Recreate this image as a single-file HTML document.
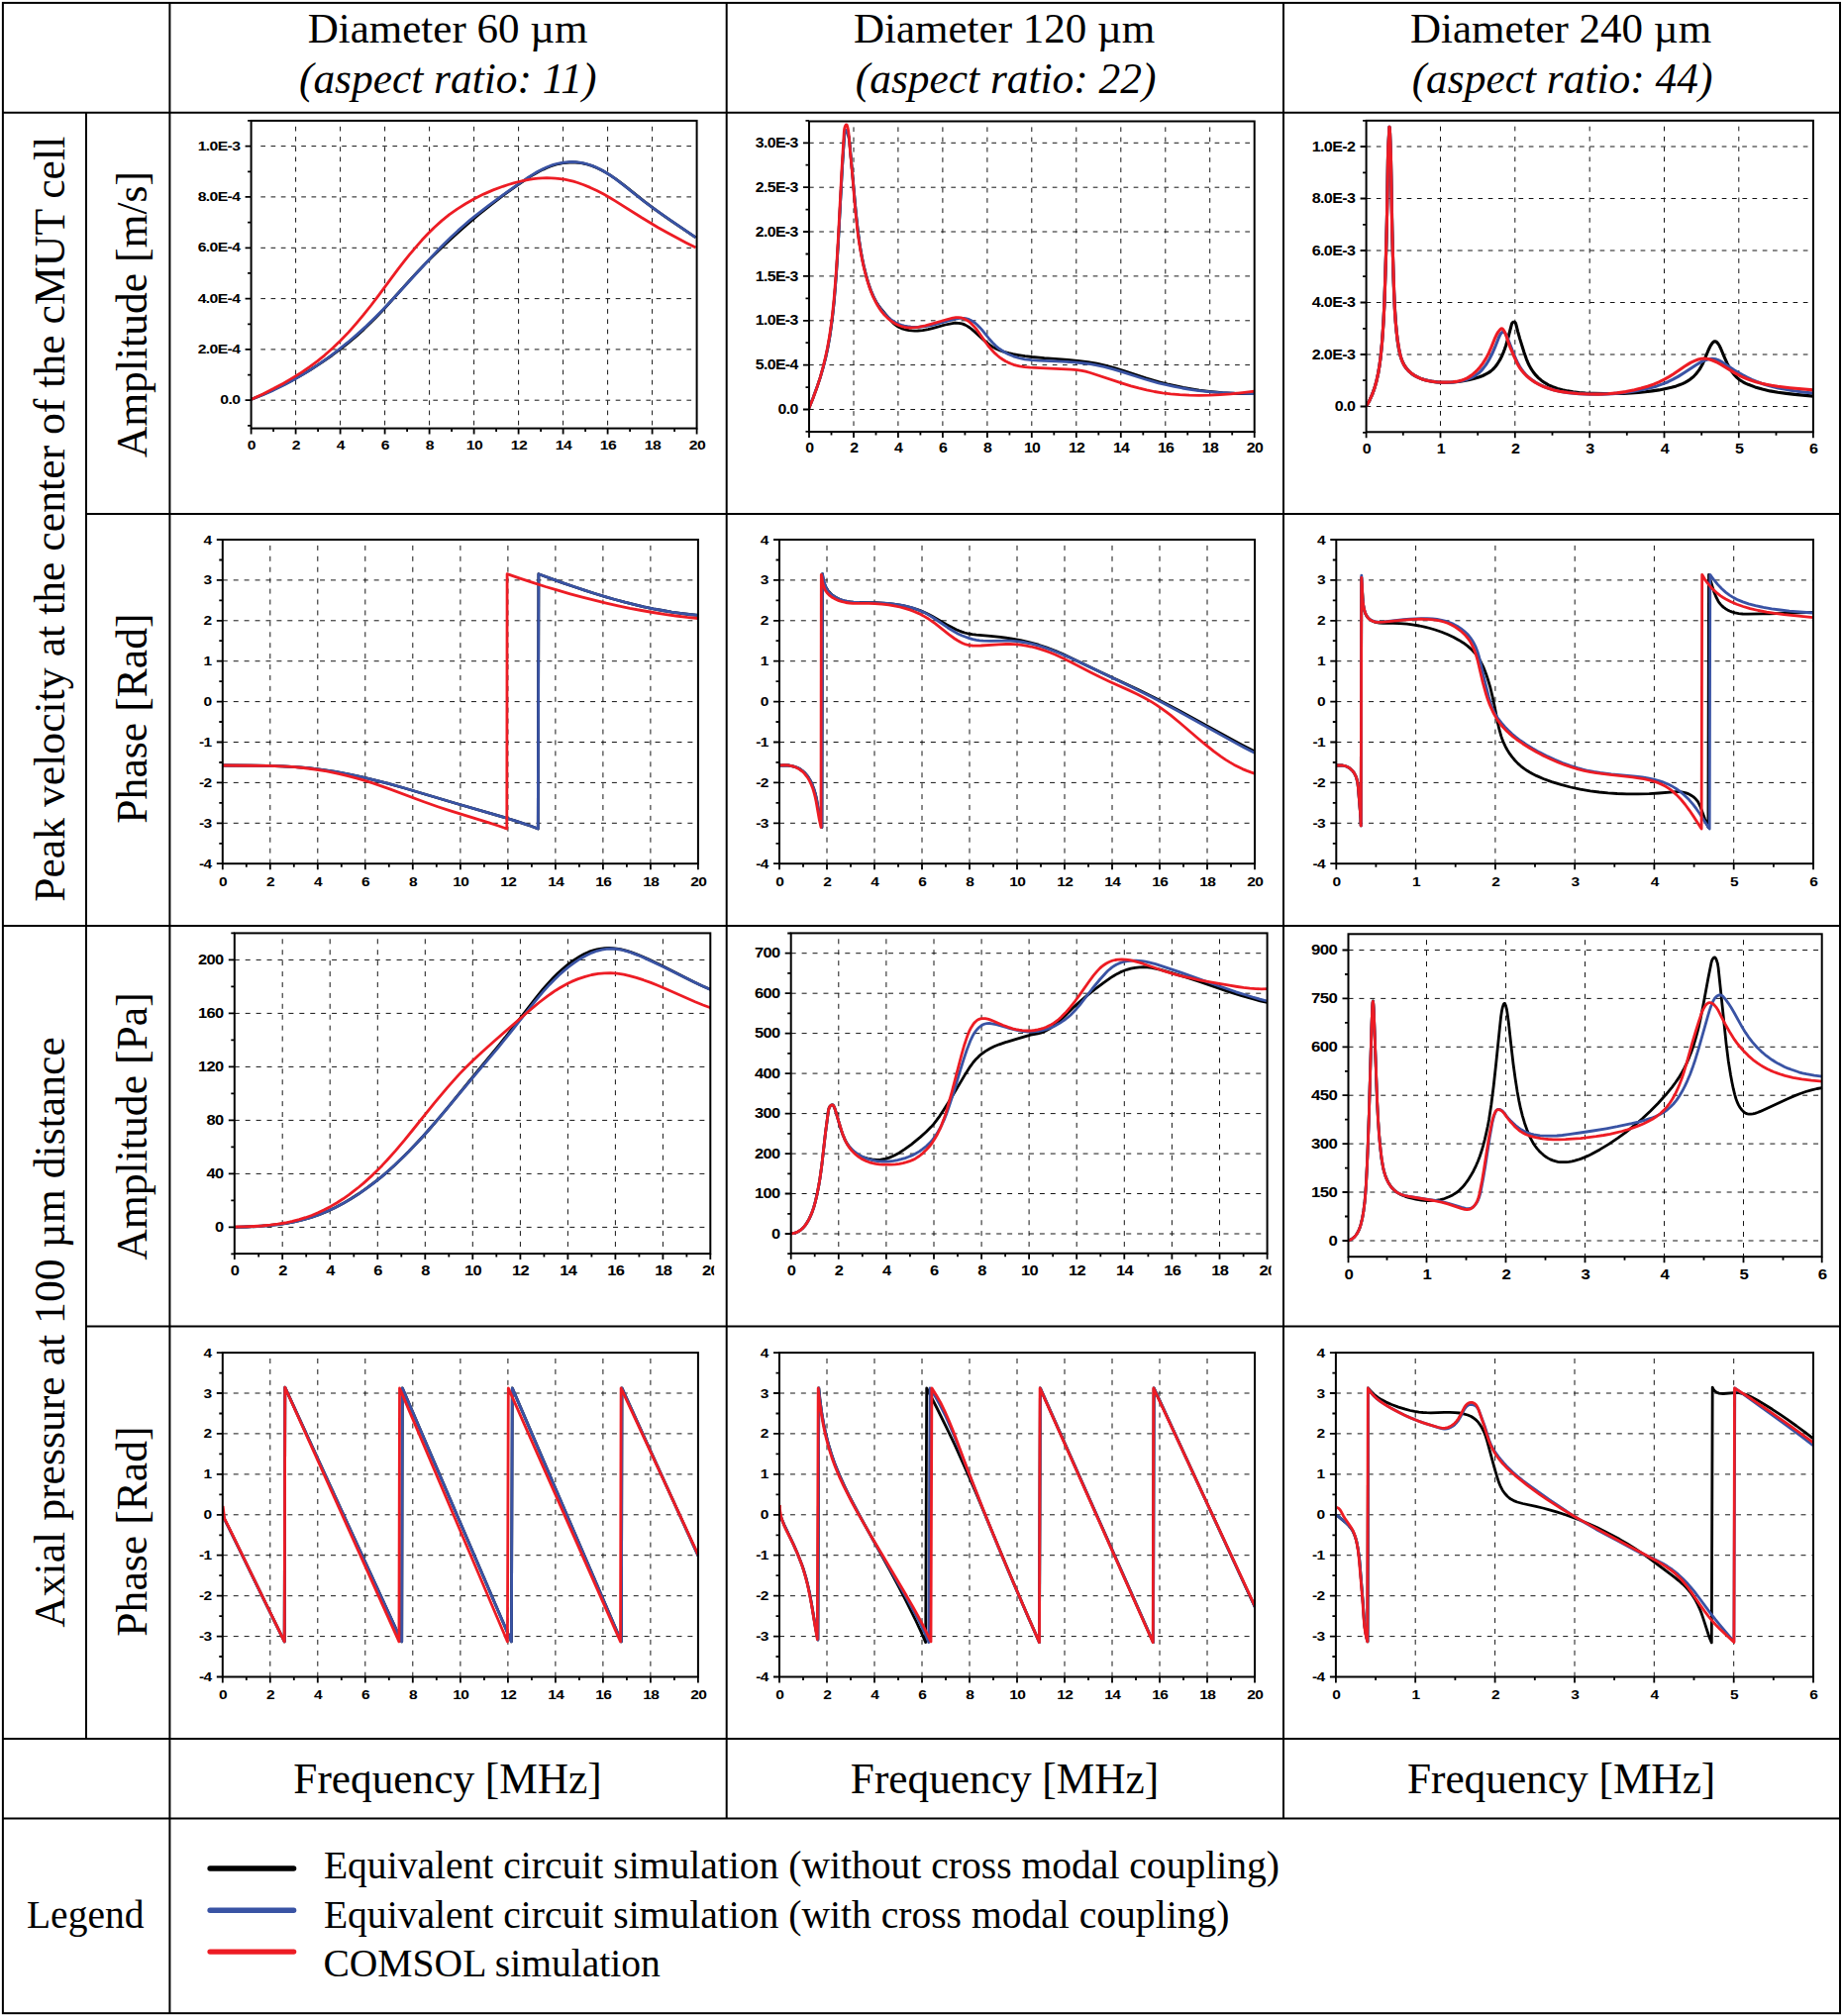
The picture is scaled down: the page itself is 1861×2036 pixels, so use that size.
<!DOCTYPE html>
<html><head><meta charset="utf-8"><title>cMUT simulation comparison</title>
<style>
html,body{margin:0;padding:0;background:#fff}
svg{display:block}
.s{font-family:"Liberation Serif",serif;fill:#000}
.h{font-family:"Liberation Sans",sans-serif;fill:#000}
.g{stroke:#151515;stroke-width:1}
</style></head><body>
<svg width="1861" height="2036" viewBox="0 0 1861 2036">
<defs><clipPath id="c1"><rect x="253.6" y="121.9" width="451" height="310.7"/></clipPath><clipPath id="c2"><rect x="817" y="122.5" width="450.7" height="313.6"/></clipPath><clipPath id="c3"><rect x="1379.6" y="121.8" width="452.3" height="314.5"/></clipPath><clipPath id="c4"><rect x="224.8" y="545" width="481.1" height="327.2"/></clipPath><clipPath id="c5"><rect x="787" y="545" width="481" height="327.2"/></clipPath><clipPath id="c6"><rect x="1349.3" y="545" width="482.7" height="327.2"/></clipPath><clipPath id="c7"><rect x="236.8" y="942.4" width="481.5" height="323.7"/></clipPath><clipPath id="k7"><rect x="0" y="0" width="721.2" height="2036"/></clipPath><clipPath id="c8"><rect x="798.7" y="942.4" width="481.9" height="323.4"/></clipPath><clipPath id="k8"><rect x="0" y="0" width="1283.6" height="2036"/></clipPath><clipPath id="c9"><rect x="1361.5" y="943.3" width="479.2" height="325.9"/></clipPath><clipPath id="c10"><rect x="224.8" y="1366.1" width="481.1" height="327.4"/></clipPath><clipPath id="c11"><rect x="787" y="1366.1" width="481" height="327.4"/></clipPath><clipPath id="c12"><rect x="1348.9" y="1366.1" width="483.1" height="327.4"/></clipPath></defs>
<rect width="1861" height="2036" fill="#fff"/>
<rect x="2.9" y="2.9" width="1855.1" height="2030.3" fill="none" stroke="#000" stroke-width="2"/>
<line x1="87" y1="113.7" x2="87" y2="1756" stroke="#000" stroke-width="2" />
<line x1="171.4" y1="2.9" x2="171.4" y2="2033.2" stroke="#000" stroke-width="2" />
<line x1="733.7" y1="2.9" x2="733.7" y2="1836.6" stroke="#000" stroke-width="2" />
<line x1="1296" y1="2.9" x2="1296" y2="1836.6" stroke="#000" stroke-width="2" />
<line x1="2.9" y1="113.7" x2="1858" y2="113.7" stroke="#000" stroke-width="2" />
<line x1="87" y1="519" x2="1858" y2="519" stroke="#000" stroke-width="2" />
<line x1="2.9" y1="935" x2="1858" y2="935" stroke="#000" stroke-width="2" />
<line x1="87" y1="1339.5" x2="1858" y2="1339.5" stroke="#000" stroke-width="2" />
<line x1="2.9" y1="1756" x2="1858" y2="1756" stroke="#000" stroke-width="2" />
<line x1="2.9" y1="1836.6" x2="1858" y2="1836.6" stroke="#000" stroke-width="2" />
<text class="s" x="452.1" y="43" font-size="43" text-anchor="middle">Diameter 60 µm</text>
<text class="s" x="452.2" y="93.6" font-size="43.4" text-anchor="middle" font-style="italic">(aspect ratio: 11)</text>
<text class="s" x="1014.1" y="43" font-size="43" text-anchor="middle">Diameter 120 µm</text>
<text class="s" x="1015.6" y="93.6" font-size="43.4" text-anchor="middle" font-style="italic">(aspect ratio: 22)</text>
<text class="s" x="1576" y="43" font-size="43" text-anchor="middle">Diameter 240 µm</text>
<text class="s" x="1577.5" y="93.6" font-size="43.4" text-anchor="middle" font-style="italic">(aspect ratio: 44)</text>
<text class="s" x="452" y="1811.2" font-size="43.3" text-anchor="middle">Frequency [MHz]</text>
<text class="s" x="1014.5" y="1811.2" font-size="43.3" text-anchor="middle">Frequency [MHz]</text>
<text class="s" x="1576.6" y="1811.2" font-size="43.3" text-anchor="middle">Frequency [MHz]</text>
<text class="s" x="86.2" y="1947.2" font-size="39.5" text-anchor="middle">Legend</text>
<text class="s" x="326.9" y="1896.6" font-size="39.6" text-anchor="start">Equivalent circuit simulation (without cross modal coupling)</text>
<text class="s" x="326.9" y="1947.2" font-size="39.6" text-anchor="start">Equivalent circuit simulation (with cross modal coupling)</text>
<text class="s" x="326.4" y="1996.3" font-size="39.6" text-anchor="start">COMSOL simulation</text>
<line x1="212.1" y1="1887" x2="296.6" y2="1887" stroke="#000000" stroke-width="5.4" stroke-linecap="round"/>
<line x1="212.1" y1="1929.2" x2="296.6" y2="1929.2" stroke="#3953a4" stroke-width="5.4" stroke-linecap="round"/>
<line x1="212.1" y1="1971.1" x2="296.6" y2="1971.1" stroke="#ed1c24" stroke-width="5.4" stroke-linecap="round"/>
<text class="s" x="65" y="524.3" font-size="43.7" text-anchor="middle" transform="rotate(-90 65 524.3)">Peak velocity at the center of the cMUT cell</text>
<text class="s" x="65" y="1345.5" font-size="43.7" text-anchor="middle" transform="rotate(-90 65 1345.5)">Axial pressure at 100 µm distance</text>
<text class="s" x="148.3" y="317.6" font-size="43.6" text-anchor="middle" transform="rotate(-90 148.3 317.6)">Amplitude [m/s]</text>
<text class="s" x="148.3" y="725.5" font-size="43.7" text-anchor="middle" transform="rotate(-90 148.3 725.5)">Phase [Rad]</text>
<text class="s" x="148.3" y="1137.5" font-size="43.7" text-anchor="middle" transform="rotate(-90 148.3 1137.5)">Amplitude [Pa]</text>
<text class="s" x="148.3" y="1546.5" font-size="43.7" text-anchor="middle" transform="rotate(-90 148.3 1546.5)">Phase [Rad]</text>
<g class="g" stroke-dasharray="4.69 5.55"><line x1="298.6" y1="127.8" x2="298.6" y2="432.6"/><line x1="343.6" y1="127.8" x2="343.6" y2="432.6"/><line x1="388.6" y1="127.8" x2="388.6" y2="432.6"/><line x1="433.6" y1="127.8" x2="433.6" y2="432.6"/><line x1="478.6" y1="127.8" x2="478.6" y2="432.6"/><line x1="523.6" y1="127.8" x2="523.6" y2="432.6"/><line x1="568.6" y1="127.8" x2="568.6" y2="432.6"/><line x1="613.6" y1="127.8" x2="613.6" y2="432.6"/><line x1="658.6" y1="127.8" x2="658.6" y2="432.6"/><line x1="263.3" y1="404.2" x2="703.6" y2="404.2"/><line x1="263.3" y1="352.9" x2="703.6" y2="352.9"/><line x1="263.3" y1="301.6" x2="703.6" y2="301.6"/><line x1="263.3" y1="250.3" x2="703.6" y2="250.3"/><line x1="263.3" y1="198.9" x2="703.6" y2="198.9"/><line x1="263.3" y1="147.6" x2="703.6" y2="147.6"/></g>
<g clip-path="url(#c1)" fill="none" stroke-width="2.8" stroke-linejoin="round" stroke-linecap="butt">
<path d="M252.9 403.8 265.5 398.5 277.9 392.8 290.1 386.7 301.9 380.3 313.4 373.5 324.4 366.4 335.1 359 345.6 351.2 353.1 345.1 360.2 339.1 367.4 332.6 374.1 326.1 380.4 319.7 387.1 312.7 415.7 280.9 422.7 273.4 429.9 265.9 439.6 256.2 449.5 246.7 459.8 237.2 470.2 228 483.1 217 496 206.6 508.7 196.9 521.6 187.6 532.3 180.3 536.6 177.6 540.7 175.2 544.6 173 548.5 171.1 552.1 169.5 555.8 168 558.9 167 562.1 166 565.3 165.3 568.5 164.7 571.8 164.3 575 164 578.2 164 581.1 164 584.3 164.3 587.2 164.7 590.1 165.3 592.9 166 595.7 166.8 598.8 167.9 601.9 169.2 605.2 170.7 609.1 172.7 613.2 175.1 617.5 177.8 622 180.9 630.9 187.6 650.9 203.6 662.3 212.2 670.3 217.9 679.3 224.2 702.6 239.9 " stroke="#000000"/>
<path d="M252.9 403.8 264.4 399.2 276.1 394.1 287.4 388.4 298.6 382.4 309.8 375.8 320.7 368.7 331.3 361.3 342 353.2 351.3 345.7 360.4 337.9 369.6 329.6 378.4 321 386.6 312.7 395.6 303.2 427.9 268 441.3 253.6 448.8 246 455.7 239.3 462.5 232.9 468.9 227.2 474.5 222.4 480.4 217.6 493.3 207.6 507.9 196.9 526.4 183.9 535.4 177.9 542.6 173.5 549.1 170.2 552.4 168.7 555.5 167.5 558.6 166.4 561.8 165.5 565 164.8 567.9 164.3 571.2 163.8 574.5 163.6 577.8 163.5 580.8 163.6 583.7 163.9 586.7 164.3 589.6 164.9 592.4 165.6 595.3 166.5 598.4 167.6 601.5 168.8 604.5 170.3 608.4 172.3 612.2 174.5 616.2 177 620.7 180.1 629.6 186.8 648.6 202 658.7 209.6 673.3 219.9 702.6 239.9 " stroke="#3953a4"/>
<path d="M252.9 403.8 265.4 397.9 276.5 392.3 286.6 386.9 295.9 381.4 304.8 375.9 312.8 370.4 320.3 364.9 327.8 358.8 336 351.5 343.8 344 351.9 335.6 359.8 326.6 366.9 318.2 374.6 308.5 382.1 298.6 401.9 271.9 407.9 264.2 413.5 257.2 420.1 249.3 426.2 242.3 432.4 235.8 438.5 229.8 446.1 222.9 453.8 216.7 461.7 211.1 470.2 205.7 479 200.7 488.3 196.1 498 191.9 507.8 188.3 513.2 186.5 518.7 184.9 523.9 183.5 529.1 182.3 534 181.4 538.6 180.7 543.2 180.1 547.8 179.8 552.1 179.7 556.7 179.8 561 180.1 565.6 180.6 569.9 181.2 574.4 182.1 578.9 183.2 583.3 184.5 589.6 186.7 596 189.4 602.7 192.5 609.5 196.1 615.1 199.2 621.1 202.9 647.9 219.8 664.4 229.7 673.9 235 683.2 240.1 692.9 245.2 702.6 250.1 " stroke="#ed1c24"/>
</g>
<rect x="253.6" y="121.9" width="450" height="310.7" fill="none" stroke="#000" stroke-width="2"/>
<path d="M253.6 432.6v6M298.6 432.6v6M343.6 432.6v6M388.6 432.6v6M433.6 432.6v6M478.6 432.6v6M523.6 432.6v6M568.6 432.6v6M613.6 432.6v6M658.6 432.6v6M703.6 432.6v6M276.1 432.6v3.5M321.1 432.6v3.5M366.1 432.6v3.5M411.1 432.6v3.5M456.1 432.6v3.5M501.1 432.6v3.5M546.1 432.6v3.5M591.1 432.6v3.5M636.1 432.6v3.5M681.1 432.6v3.5M253.6 404.2h-6M253.6 352.9h-6M253.6 301.6h-6M253.6 250.3h-6M253.6 198.9h-6M253.6 147.6h-6M253.6 429.9h-3.5M253.6 378.6h-3.5M253.6 327.3h-3.5M253.6 275.9h-3.5M253.6 224.6h-3.5M253.6 173.3h-3.5M253.6 121.9h-3.5" stroke="#000" stroke-width="1.8" fill="none"/>
<g class="h" font-size="13.7" font-weight="bold" letter-spacing="-0.55">
<text transform="translate(253.9 453.5) scale(1.15 1)" text-anchor="middle">0</text>
<text transform="translate(298.9 453.5) scale(1.15 1)" text-anchor="middle">2</text>
<text transform="translate(343.9 453.5) scale(1.15 1)" text-anchor="middle">4</text>
<text transform="translate(388.9 453.5) scale(1.15 1)" text-anchor="middle">6</text>
<text transform="translate(433.9 453.5) scale(1.15 1)" text-anchor="middle">8</text>
<text transform="translate(478.9 453.5) scale(1.15 1)" text-anchor="middle">10</text>
<text transform="translate(523.9 453.5) scale(1.15 1)" text-anchor="middle">12</text>
<text transform="translate(568.9 453.5) scale(1.15 1)" text-anchor="middle">14</text>
<text transform="translate(613.9 453.5) scale(1.15 1)" text-anchor="middle">16</text>
<text transform="translate(658.9 453.5) scale(1.15 1)" text-anchor="middle">18</text>
<text transform="translate(703.9 453.5) scale(1.15 1)" text-anchor="middle">20</text>
<text transform="translate(242.3 408.3) scale(1.15 1)" text-anchor="end">0.0</text>
<text transform="translate(242.3 356.9) scale(1.15 1)" text-anchor="end">2.0E-4</text>
<text transform="translate(242.3 305.6) scale(1.15 1)" text-anchor="end">4.0E-4</text>
<text transform="translate(242.3 254.3) scale(1.15 1)" text-anchor="end">6.0E-4</text>
<text transform="translate(242.3 203) scale(1.15 1)" text-anchor="end">8.0E-4</text>
<text transform="translate(242.3 151.6) scale(1.15 1)" text-anchor="end">1.0E-3</text>
</g>
<g class="g" stroke-dasharray="4.69 5.55"><line x1="862" y1="128.4" x2="862" y2="436.1"/><line x1="906.9" y1="128.4" x2="906.9" y2="436.1"/><line x1="951.9" y1="128.4" x2="951.9" y2="436.1"/><line x1="996.9" y1="128.4" x2="996.9" y2="436.1"/><line x1="1041.8" y1="128.4" x2="1041.8" y2="436.1"/><line x1="1086.8" y1="128.4" x2="1086.8" y2="436.1"/><line x1="1131.8" y1="128.4" x2="1131.8" y2="436.1"/><line x1="1176.8" y1="128.4" x2="1176.8" y2="436.1"/><line x1="1221.7" y1="128.4" x2="1221.7" y2="436.1"/><line x1="817" y1="413.5" x2="1266.7" y2="413.5"/><line x1="817" y1="368.6" x2="1266.7" y2="368.6"/><line x1="817" y1="323.8" x2="1266.7" y2="323.8"/><line x1="817" y1="278.9" x2="1266.7" y2="278.9"/><line x1="817" y1="234" x2="1266.7" y2="234"/><line x1="817" y1="189.2" x2="1266.7" y2="189.2"/><line x1="817" y1="144.3" x2="1266.7" y2="144.3"/></g>
<g clip-path="url(#c2)" fill="none" stroke-width="2.8" stroke-linejoin="round" stroke-linecap="butt">
<path d="M816.6 413.1 820.9 402.3 824.8 391.6 828.3 381.1 831.2 370.9 833.8 360.9 835.9 351.1 837.8 340.6 839.5 329 840.9 317.7 842.2 305.1 843.4 290.5 844.6 274.9 846.6 241.9 850.4 170.3 852.2 142.3 852.6 137.6 853 134.8 853.7 132.7 854.1 132.1 854.5 132 854.9 132.2 855.4 132.9 856.3 134.9 857.1 138.5 857.8 143 859 157.2 861.2 180.1 864.4 216.3 865.8 228.9 867.1 239.8 868.6 249.7 870.3 259.2 872.1 268 874.2 276.5 876.8 285.9 879.3 293.2 880.7 296.6 882 299.6 883.5 302.6 885 305.2 887.2 308.5 889.7 312 898.8 322.9 900.8 325.1 902.4 326.7 904.2 328.2 905.8 329.3 907.8 330.5 910.2 331.6 912.7 332.5 915.3 333.1 917.9 333.6 920.6 333.9 923.7 334.1 926.7 334 931.7 333.6 937.3 332.6 942.4 331.3 954.6 328 960.3 326.8 963 326.4 965.4 326.2 967.7 326.3 969.9 326.6 972.1 327.1 974.5 328.1 976.8 329.4 979.3 331 981.7 332.9 984.3 335.1 992.8 342.9 996.1 345.7 999.5 348.4 1002.5 350.4 1005.9 352.3 1009.8 354 1013.9 355.4 1018.8 356.7 1023.1 357.7 1028.4 358.6 1035 359.6 1042 360.5 1054.5 361.7 1078.1 363.4 1088.1 364.3 1098.4 365.6 1107.6 367.1 1116.1 369 1125.4 371.6 1134.3 374.3 1157.1 381.9 1163.8 383.9 1170.6 385.8 1178.7 387.9 1186.8 389.7 1194.9 391.4 1203.5 392.9 1211 394.1 1219 395.1 1226.6 395.9 1234.6 396.6 1242.6 397.1 1250.6 397.5 1258.6 397.6 1266.6 397.6 " stroke="#000000"/>
<path d="M816.6 413.1 820.9 402.3 824.8 391.6 828.3 381.1 831.3 370.9 833.8 360.8 835.9 351.1 837.8 340.6 839.4 329.3 840.8 317.8 842.2 304.8 843.5 289.5 844.7 272.9 846.5 243.9 850.2 174.6 851.3 156.3 852.5 139.7 852.8 136.3 853.2 133.8 853.7 132.2 854.1 131.5 854.4 131.4 854.8 131.6 855.3 132.3 856.2 134.8 857 138 857.6 142.3 858.3 148.6 863.7 208.3 866.2 232.2 867.8 244.1 869.4 254.7 871.2 264.2 873.3 273.3 875.9 282.9 878.6 291.1 880.1 294.9 881.7 298.5 883.3 301.9 885 305.1 886.9 308.3 888.8 311.1 890.8 313.8 893 316.4 895.3 318.9 897.5 320.9 899.8 322.8 902.3 324.5 904.8 326 907.5 327.3 910.3 328.3 913.1 329.1 916.4 329.7 919.8 330.1 923.1 330.3 926.9 330.3 930.3 330 934 329.6 937.6 329.1 941.5 328.3 948.8 326.5 962.4 322.7 966.5 321.8 968.8 321.4 971.2 321.3 973.1 321.3 975 321.6 977.8 322.4 980.8 323.7 983.9 325.7 986.7 328 989.1 330.4 991.6 333.1 999.1 342.5 1002.2 346 1005.5 349.3 1009.1 352.3 1013.6 355.2 1018.3 357.8 1023.3 359.8 1028.7 361.5 1031.6 362.2 1034.8 362.8 1041.8 363.7 1048.7 364.2 1072.5 365.1 1084.2 365.9 1095.8 367 1101.1 367.7 1106.3 368.6 1114.7 370.4 1124.1 372.8 1133.3 375.6 1156.3 383 1163 384.9 1169.8 386.8 1177.9 388.7 1185.7 390.4 1193.9 392 1201.7 393.3 1208.7 394.3 1215.6 395.1 1222.9 395.8 1230.3 396.4 1246.6 397.2 1266.6 397.6 " stroke="#3953a4"/>
<path d="M816.6 413.1 820.7 402.9 824.5 392.6 827.9 382.1 830.8 371.8 833.3 361.7 835.5 351.3 837.5 340.1 839.2 328.3 840.7 316 842.1 302.1 843.4 286.4 844.7 269.5 846.4 240.5 850 171 852.3 133.2 852.6 130.3 853.1 128.2 853.8 126.5 854.2 126 854.5 125.8 854.9 126 855.2 126.3 855.8 128.1 856.6 131.9 857.1 135.9 858.3 150.8 860.6 175.3 863.4 209.3 864.7 221.9 865.9 233.2 867.3 243.4 868.9 253.3 870.6 262.4 872.5 271.2 875.2 281.5 878 290.5 879.5 294.5 881 298.3 882.7 301.9 884.5 305.5 886.3 308.7 888.3 311.9 890.2 314.6 892.3 317.2 894.6 319.6 896.8 321.7 899.1 323.6 901.5 325.3 903.8 326.7 906.2 327.9 908.7 329 911.3 329.8 913.9 330.4 916.2 330.8 918.9 331 921.6 330.9 924.3 330.7 927.3 330.3 934.5 328.8 940.8 327.1 956.6 322.5 962.2 321.1 965.2 320.7 967.8 320.7 970.4 320.9 972.6 321.5 975.2 322.7 977.8 324.3 980.4 326.5 983.1 329.2 985.3 331.7 987.7 334.9 995.5 346 998.7 350.3 1002.7 354.8 1004.8 356.9 1007.1 359 1009.7 361.1 1012.5 363 1015.3 364.7 1018 366.1 1020.7 367.3 1023.5 368.3 1026.4 369.1 1029.6 369.8 1034.6 370.6 1040.3 371.1 1081.6 373.2 1087.3 373.6 1092.3 374.3 1096.2 375.2 1101 376.5 1133.3 387.1 1142 389.8 1149.7 391.9 1157.8 393.9 1165.6 395.5 1173.8 396.8 1182.1 397.8 1191.4 398.6 1201 399.1 1210.7 399.3 1221.1 399.1 1231.8 398.6 1242.8 397.8 1254.4 396.6 1266.6 395.2 " stroke="#ed1c24"/>
</g>
<rect x="817" y="122.5" width="449.7" height="313.6" fill="none" stroke="#000" stroke-width="2"/>
<path d="M817 436.1v6M862 436.1v6M906.9 436.1v6M951.9 436.1v6M996.9 436.1v6M1041.8 436.1v6M1086.8 436.1v6M1131.8 436.1v6M1176.8 436.1v6M1221.7 436.1v6M1266.7 436.1v6M839.5 436.1v3.5M884.5 436.1v3.5M929.4 436.1v3.5M974.4 436.1v3.5M1019.4 436.1v3.5M1064.3 436.1v3.5M1109.3 436.1v3.5M1154.3 436.1v3.5M1199.2 436.1v3.5M1244.2 436.1v3.5M817 413.5h-6M817 368.6h-6M817 323.8h-6M817 278.9h-6M817 234h-6M817 189.2h-6M817 144.3h-6M817 435.9h-3.5M817 391.1h-3.5M817 346.2h-3.5M817 301.3h-3.5M817 256.5h-3.5M817 211.6h-3.5M817 166.7h-3.5M817 121.9h-3.5" stroke="#000" stroke-width="1.8" fill="none"/>
<g class="h" font-size="13.8" font-weight="bold" letter-spacing="-0.55">
<text transform="translate(817.3 456.8) scale(1.15 1)" text-anchor="middle">0</text>
<text transform="translate(862.3 456.8) scale(1.15 1)" text-anchor="middle">2</text>
<text transform="translate(907.2 456.8) scale(1.15 1)" text-anchor="middle">4</text>
<text transform="translate(952.2 456.8) scale(1.15 1)" text-anchor="middle">6</text>
<text transform="translate(997.2 456.8) scale(1.15 1)" text-anchor="middle">8</text>
<text transform="translate(1042.1 456.8) scale(1.15 1)" text-anchor="middle">10</text>
<text transform="translate(1087.1 456.8) scale(1.15 1)" text-anchor="middle">12</text>
<text transform="translate(1132.1 456.8) scale(1.15 1)" text-anchor="middle">14</text>
<text transform="translate(1177.1 456.8) scale(1.15 1)" text-anchor="middle">16</text>
<text transform="translate(1222 456.8) scale(1.15 1)" text-anchor="middle">18</text>
<text transform="translate(1267 456.8) scale(1.15 1)" text-anchor="middle">20</text>
<text transform="translate(805.7 418.1) scale(1.15 1)" text-anchor="end">0.0</text>
<text transform="translate(805.7 373.2) scale(1.15 1)" text-anchor="end">5.0E-4</text>
<text transform="translate(805.7 328.3) scale(1.15 1)" text-anchor="end">1.0E-3</text>
<text transform="translate(805.7 283.5) scale(1.15 1)" text-anchor="end">1.5E-3</text>
<text transform="translate(805.7 238.6) scale(1.15 1)" text-anchor="end">2.0E-3</text>
<text transform="translate(805.7 193.7) scale(1.15 1)" text-anchor="end">2.5E-3</text>
<text transform="translate(805.7 148.9) scale(1.15 1)" text-anchor="end">3.0E-3</text>
</g>
<g class="g" stroke-dasharray="4.70 5.56"><line x1="1454.5" y1="127.7" x2="1454.5" y2="436.3"/><line x1="1529.8" y1="127.7" x2="1529.8" y2="436.3"/><line x1="1605.2" y1="127.7" x2="1605.2" y2="436.3"/><line x1="1680.5" y1="127.7" x2="1680.5" y2="436.3"/><line x1="1755.8" y1="127.7" x2="1755.8" y2="436.3"/><line x1="1379.6" y1="410.5" x2="1830.9" y2="410.5"/><line x1="1379.6" y1="358" x2="1830.9" y2="358"/><line x1="1379.6" y1="305.5" x2="1830.9" y2="305.5"/><line x1="1379.6" y1="253" x2="1830.9" y2="253"/><line x1="1379.6" y1="200.5" x2="1830.9" y2="200.5"/><line x1="1379.6" y1="148" x2="1830.9" y2="148"/></g>
<g clip-path="url(#c3)" fill="none" stroke-width="3.1" stroke-linejoin="round" stroke-linecap="butt">
<path d="M1379.7 409.9 1381.3 407.3 1382.9 404.4 1385.5 398.6 1387.8 392.4 1389.8 385.3 1391.6 377.5 1393.1 368.6 1394.3 359 1395.4 347.7 1396.3 335.4 1397.1 322.5 1397.8 308.1 1398.4 291.5 1399.7 252.5 1400.4 223.5 1400.8 202.5 1401.4 160.5 1402.6 133.3 1402.8 129.4 1403 128.3 1403.3 130.2 1403.6 135.7 1404.4 157.8 1405.9 236.5 1407 278.8 1407.6 295.8 1408.5 311.8 1409.3 324.7 1410.2 335.4 1411.3 345.3 1412.5 352.9 1413.8 358.4 1414.6 361 1415.5 363.5 1416.6 366 1417.8 368.3 1419.3 370.6 1420.6 372.5 1422.1 374.3 1423.8 375.9 1425.5 377.4 1427.7 378.9 1430.9 380.7 1434.3 382.2 1438.1 383.5 1442.4 384.6 1446.7 385.4 1451.3 385.9 1456.3 386.2 1461.6 386.3 1466.9 386 1472.2 385.5 1477.5 384.8 1482.7 383.8 1487.9 382.5 1493.1 381 1497.2 379.5 1500.8 377.7 1503.1 376.4 1505 375.1 1506.8 373.6 1508.5 372 1510.2 370 1511.9 367.8 1513.3 365.5 1514.9 362.9 1516.4 359.8 1517.9 356.4 1519.3 352.8 1520.6 349 1522.8 341.4 1526.5 327.2 1526.9 326.3 1527.4 325.7 1528 325.3 1528.7 325.2 1529.3 325.3 1530 325.8 1530.3 326.2 1530.7 327.1 1532.6 334.6 1534.7 342.1 1539.1 356.2 1541.4 362.8 1542.8 366.2 1544.4 369.5 1546.2 372.7 1548.1 375.5 1550.6 378.7 1553.4 381.6 1556.4 384.2 1560 386.7 1563.7 388.8 1568 390.7 1572.7 392.4 1577.6 393.7 1582.9 394.9 1588.5 395.8 1594.5 396.5 1601.1 397 1609.4 397.3 1620.4 397.5 1630.1 397.5 1639.1 397.4 1647 397 1654.4 396.5 1661.3 395.8 1668.3 394.9 1675.2 393.9 1682.2 392.5 1687.7 391.3 1692.6 389.9 1695.7 388.8 1698.8 387.6 1701.4 386.3 1704 384.9 1706.5 383.2 1708.6 381.6 1710.6 379.8 1712.5 377.8 1714.2 375.6 1715.9 373.4 1717.5 370.7 1719 368.1 1720.9 363.9 1724.9 354 1726.3 351 1727.6 348.6 1728.8 346.8 1729.9 345.6 1731 344.9 1731.9 344.8 1732.6 345 1733.1 345.2 1734 346 1735.2 347.5 1736.3 349.3 1737.6 352 1741.5 361.3 1743.9 366.7 1746.4 371.5 1748.9 375.6 1751.4 378.8 1753.9 381.4 1756.7 383.7 1760.1 385.8 1762.5 387.1 1765.3 388.3 1772.2 390.9 1779.5 393.1 1787.3 394.9 1795.2 396.3 1803.8 397.4 1812.4 398.4 1831 400.1 " stroke="#000000"/>
<path d="M1379.7 409.9 1381.3 407.3 1382.9 404.4 1385.5 398.6 1386.7 395.5 1387.9 392.1 1389.9 385 1391.6 377.2 1393.1 368.3 1394.3 358.7 1395.5 346.7 1396.4 334.4 1397.2 321.1 1397.9 306.5 1398.5 289.1 1399.5 257.1 1400.4 224.1 1401 190.8 1401.7 150.8 1401.9 146.4 1402.5 137 1402.8 129.6 1403 128.3 1403.3 129.8 1403.5 134.1 1404.4 157.5 1404.8 177.1 1405.7 232.2 1406.9 273.8 1408.3 311.2 1409 322.1 1409.8 331.8 1411 341.7 1412.5 351.3 1414.1 359.1 1414.9 362 1415.8 364.5 1416.7 366.7 1417.8 368.7 1419 370.7 1420.4 372.5 1422 374.3 1424 376.1 1425.9 377.6 1428.1 379.2 1430.8 380.7 1433.5 381.9 1436.7 383.1 1439.9 384 1443.8 384.8 1448 385.5 1452.3 386 1456.5 386.2 1460.9 386.3 1465.2 386.1 1469.3 385.8 1473 385.3 1476.7 384.5 1479.9 383.7 1483.1 382.6 1486.1 381.3 1488.2 380.2 1490.1 379 1492 377.6 1493.8 376.2 1495.4 374.6 1497.2 372.6 1500.3 368.6 1502 366 1503.6 363.3 1506.7 357.3 1509.6 350.7 1513.4 341 1514.6 338.3 1515.5 336.9 1516.3 336 1517.2 335.4 1518.1 335.2 1518.7 335.3 1519.3 335.8 1520.1 336.9 1520.8 338.2 1523.7 345.2 1529.4 359.7 1531.2 363.8 1532.8 367.1 1534.6 370.3 1536.5 373.1 1538.5 375.8 1540.4 378 1543.5 381 1547.1 383.9 1551 386.5 1555.2 388.7 1559.8 390.8 1564.5 392.6 1569.6 394.1 1574.8 395.2 1579.1 396 1583.7 396.6 1594.4 397.6 1606 398.1 1617.7 398.1 1628.3 397.6 1639 396.6 1649.5 395.2 1659.7 393.3 1666.6 391.7 1673 389.9 1678.7 387.9 1684.2 385.7 1689.3 383.2 1694.8 380.1 1700.2 376.7 1712.8 368.5 1718.2 365.3 1720.9 364.1 1723.5 363.2 1726.2 362.6 1729 362.4 1730.6 362.5 1732.5 362.8 1734.4 363.4 1736.1 364.2 1739.6 366.2 1746.6 370.9 1751.1 373.9 1755.4 376.4 1759.5 378.7 1764.2 381.2 1769 383.4 1773.9 385.4 1778.9 387.2 1784.3 388.9 1789.8 390.5 1795.7 391.9 1801.9 393.1 1808.2 394.2 1815.1 395.2 1822.7 396.2 1831 397 " stroke="#3953a4"/>
<path d="M1379.7 409.9 1381.3 407.3 1382.9 404.4 1385.5 398.7 1386.7 395.5 1387.9 392.1 1389.9 385 1391.6 377.2 1393.1 368.3 1394.3 358.7 1395.5 346.7 1396.4 334.4 1397.2 321.1 1397.9 306.5 1398.5 289.2 1399.5 257.1 1400.4 223.8 1401 190.5 1401.7 151.2 1401.8 146.8 1402.5 137.4 1402.8 129.6 1403 128.3 1403.1 128.7 1403.3 129.8 1403.5 134.1 1404.4 157.2 1405.7 232.8 1407 276.5 1408.3 311.8 1409 322.8 1409.9 332.4 1411.1 343 1412.7 352.6 1414.2 359.8 1415 362.3 1415.9 364.8 1416.8 366.9 1417.9 369 1419.2 370.9 1420.7 372.7 1422.3 374.5 1424.3 376.3 1426.2 377.8 1428.4 379.3 1430.8 380.6 1433.5 381.9 1436.3 383 1439.5 384 1442.7 384.8 1446 385.3 1449.6 385.8 1453.2 386 1457.9 386.1 1462.9 386 1467 385.8 1470.3 385.4 1473.3 384.8 1476.2 384 1478.6 383.1 1481.4 381.8 1483.4 380.6 1485.7 379.1 1487.8 377.4 1489.8 375.6 1491.7 373.8 1493.8 371.6 1495.4 369.5 1497.2 367.1 1500.4 362.1 1503.4 356.4 1505.8 350.9 1509.7 341.2 1511.6 337.3 1512.9 335.1 1514.5 333.1 1515.6 332.1 1516 331.9 1516.4 331.9 1517.1 332.1 1518 333 1519 334.6 1520 336.6 1521 339.2 1523.2 346 1524.9 350.6 1529.1 360.7 1531.7 366.2 1533.2 369.2 1535 372.1 1536.8 374.5 1538.9 377 1542.2 380.3 1545.8 383.3 1549.7 385.9 1554.1 388.3 1558.7 390.5 1563.7 392.3 1569.1 393.9 1574.6 395.2 1578.9 395.9 1583.2 396.5 1592.8 397.5 1603.5 398 1613.9 398.1 1623.5 397.7 1632.8 396.9 1641.7 395.6 1650.5 393.8 1657.3 392.1 1663.7 390.2 1669.7 388.1 1675.6 385.6 1680.7 383.1 1685.6 380.4 1689.8 377.7 1701.1 370 1704.5 367.9 1707.4 366.2 1711.3 364.4 1714.8 363 1718.1 362.2 1720.7 362 1723 362.2 1725.7 362.7 1728.6 363.7 1731.7 365 1734.7 366.4 1738.2 368.4 1751.2 376.4 1757.1 379.6 1760.7 381.3 1764.4 382.8 1768.5 384.3 1773 385.7 1778.1 387.1 1783.3 388.2 1788.9 389.3 1795.2 390.3 1807.4 391.7 1831 393.9 " stroke="#ed1c24"/>
</g>
<rect x="1379.6" y="121.8" width="451.3" height="314.5" fill="none" stroke="#000" stroke-width="2"/>
<path d="M1379.6 436.3v6M1454.5 436.3v6M1529.8 436.3v6M1605.2 436.3v6M1680.5 436.3v6M1755.8 436.3v6M1830.9 436.3v6M1416.8 436.3v3.5M1492.2 436.3v3.5M1567.5 436.3v3.5M1642.8 436.3v3.5M1718.2 436.3v3.5M1793.5 436.3v3.5M1379.6 410.5h-6M1379.6 358h-6M1379.6 305.5h-6M1379.6 253h-6M1379.6 200.5h-6M1379.6 148h-6M1379.6 436.8h-3.5M1379.6 384.2h-3.5M1379.6 331.8h-3.5M1379.6 279.2h-3.5M1379.6 226.8h-3.5M1379.6 174.3h-3.5M1379.6 121.8h-3.5" stroke="#000" stroke-width="1.8" fill="none"/>
<g class="h" font-size="14" font-weight="bold" letter-spacing="-0.55">
<text transform="translate(1379.9 457.5) scale(1.15 1)" text-anchor="middle">0</text>
<text transform="translate(1454.8 457.5) scale(1.15 1)" text-anchor="middle">1</text>
<text transform="translate(1530.1 457.5) scale(1.15 1)" text-anchor="middle">2</text>
<text transform="translate(1605.5 457.5) scale(1.15 1)" text-anchor="middle">3</text>
<text transform="translate(1680.8 457.5) scale(1.15 1)" text-anchor="middle">4</text>
<text transform="translate(1756.1 457.5) scale(1.15 1)" text-anchor="middle">5</text>
<text transform="translate(1831.2 457.5) scale(1.15 1)" text-anchor="middle">6</text>
<text transform="translate(1368.3 415.1) scale(1.15 1)" text-anchor="end">0.0</text>
<text transform="translate(1368.3 362.6) scale(1.15 1)" text-anchor="end">2.0E-3</text>
<text transform="translate(1368.3 310.1) scale(1.15 1)" text-anchor="end">4.0E-3</text>
<text transform="translate(1368.3 257.6) scale(1.15 1)" text-anchor="end">6.0E-3</text>
<text transform="translate(1368.3 205.1) scale(1.15 1)" text-anchor="end">8.0E-3</text>
<text transform="translate(1368.3 152.6) scale(1.15 1)" text-anchor="end">1.0E-2</text>
</g>
<g class="g" stroke-dasharray="5.00 5.92"><line x1="272.8" y1="550.9" x2="272.8" y2="872.2"/><line x1="320.8" y1="550.9" x2="320.8" y2="872.2"/><line x1="368.8" y1="550.9" x2="368.8" y2="872.2"/><line x1="416.8" y1="550.9" x2="416.8" y2="872.2"/><line x1="464.9" y1="550.9" x2="464.9" y2="872.2"/><line x1="512.9" y1="550.9" x2="512.9" y2="872.2"/><line x1="560.9" y1="550.9" x2="560.9" y2="872.2"/><line x1="608.9" y1="550.9" x2="608.9" y2="872.2"/><line x1="656.9" y1="550.9" x2="656.9" y2="872.2"/><line x1="224.8" y1="831.3" x2="704.9" y2="831.3"/><line x1="224.8" y1="790.4" x2="704.9" y2="790.4"/><line x1="224.8" y1="749.5" x2="704.9" y2="749.5"/><line x1="224.8" y1="708.6" x2="704.9" y2="708.6"/><line x1="224.8" y1="667.7" x2="704.9" y2="667.7"/><line x1="224.8" y1="626.8" x2="704.9" y2="626.8"/><line x1="224.8" y1="585.9" x2="704.9" y2="585.9"/></g>
<g clip-path="url(#c4)" fill="none" stroke-width="2.8" stroke-linejoin="round" stroke-linecap="butt">
<path d="M224.7 773 254.4 773.1 270.1 773.3 285.2 773.8 298.5 774.6 311.8 775.7 325 777.3 338.9 779.5 353 782.1 366 784.9 379.3 788.1 393.2 791.7 408.6 796 460.8 811.5 496.7 821.8 510.8 826 520 828.8 528.3 831.6 536.1 834.3 543.3 837 L543.9 579.7 568.1 588.6 579.5 592.5 590.3 596.1 600.8 599.5 611 602.6 621 605.5 631 608.2 640.8 610.6 650.2 612.8 659.7 614.8 668.9 616.5 678.1 618.1 687.1 619.4 696 620.5 705.1 621.4 " stroke="#000000"/>
<path d="M224.7 773 254.4 773.1 270.1 773.3 285.2 773.8 298.5 774.6 311.8 775.7 325 777.3 338.9 779.5 353 782.1 366 784.9 379.3 788.1 393.2 791.7 408.6 796 460.8 811.5 496.7 821.8 510.8 826 520 828.8 528.3 831.6 536.1 834.3 543.3 837 L543.9 579.7 568.1 588.6 579.5 592.5 590.3 596.1 600.8 599.5 611 602.6 621 605.5 631 608.2 640.8 610.6 650.2 612.8 659.7 614.8 668.9 616.5 678.1 618.1 687.1 619.4 696 620.5 705.1 621.4 " stroke="#3953a4"/>
<path d="M224.7 773 271.2 773.4 283.6 773.8 294.9 774.4 306.5 775.5 318.1 777 330 778.9 341.7 781.4 350.2 783.3 358.9 785.6 367.6 788.1 376.5 790.9 392.9 796.6 427.3 809.5 442.1 814.7 457.3 819.7 493.7 830.9 503.2 834 511.8 837 L512.1 579.7 525 584.1 538 588.4 550.8 592.5 563.3 596.2 575.8 599.8 588.1 603.1 600.1 606.2 612.1 609.1 624.2 611.8 636 614.3 647.8 616.5 659.3 618.5 670.9 620.4 682.5 622 693.7 623.4 705.1 624.5 " stroke="#ed1c24"/>
</g>
<rect x="224.8" y="545" width="480.1" height="327.2" fill="none" stroke="#000" stroke-width="2"/>
<path d="M224.8 872.2v6M272.8 872.2v6M320.8 872.2v6M368.8 872.2v6M416.8 872.2v6M464.9 872.2v6M512.9 872.2v6M560.9 872.2v6M608.9 872.2v6M656.9 872.2v6M704.9 872.2v6M248.8 872.2v3.5M296.8 872.2v3.5M344.8 872.2v3.5M392.8 872.2v3.5M440.8 872.2v3.5M488.9 872.2v3.5M536.9 872.2v3.5M584.9 872.2v3.5M632.9 872.2v3.5M680.9 872.2v3.5M224.8 872.2h-6M224.8 831.3h-6M224.8 790.4h-6M224.8 749.5h-6M224.8 708.6h-6M224.8 667.7h-6M224.8 626.8h-6M224.8 585.9h-6M224.8 545h-6M224.8 851.8h-3.5M224.8 810.9h-3.5M224.8 770h-3.5M224.8 729h-3.5M224.8 688.2h-3.5M224.8 647.2h-3.5M224.8 606.4h-3.5M224.8 565.5h-3.5" stroke="#000" stroke-width="1.8" fill="none"/>
<g class="h" font-size="13.5" font-weight="bold" letter-spacing="-0.55">
<text transform="translate(225.1 894.8) scale(1.15 1)" text-anchor="middle">0</text>
<text transform="translate(273.1 894.8) scale(1.15 1)" text-anchor="middle">2</text>
<text transform="translate(321.1 894.8) scale(1.15 1)" text-anchor="middle">4</text>
<text transform="translate(369.1 894.8) scale(1.15 1)" text-anchor="middle">6</text>
<text transform="translate(417.1 894.8) scale(1.15 1)" text-anchor="middle">8</text>
<text transform="translate(465.2 894.8) scale(1.15 1)" text-anchor="middle">10</text>
<text transform="translate(513.2 894.8) scale(1.15 1)" text-anchor="middle">12</text>
<text transform="translate(561.2 894.8) scale(1.15 1)" text-anchor="middle">14</text>
<text transform="translate(609.2 894.8) scale(1.15 1)" text-anchor="middle">16</text>
<text transform="translate(657.2 894.8) scale(1.15 1)" text-anchor="middle">18</text>
<text transform="translate(705.2 894.8) scale(1.15 1)" text-anchor="middle">20</text>
<text transform="translate(213.5 876.7) scale(1.15 1)" text-anchor="end">-4</text>
<text transform="translate(213.5 835.8) scale(1.15 1)" text-anchor="end">-3</text>
<text transform="translate(213.5 794.9) scale(1.15 1)" text-anchor="end">-2</text>
<text transform="translate(213.5 754) scale(1.15 1)" text-anchor="end">-1</text>
<text transform="translate(213.5 713.1) scale(1.15 1)" text-anchor="end">0</text>
<text transform="translate(213.5 672.2) scale(1.15 1)" text-anchor="end">1</text>
<text transform="translate(213.5 631.3) scale(1.15 1)" text-anchor="end">2</text>
<text transform="translate(213.5 590.4) scale(1.15 1)" text-anchor="end">3</text>
<text transform="translate(213.5 549.5) scale(1.15 1)" text-anchor="end">4</text>
</g>
<g class="g" stroke-dasharray="5.00 5.92"><line x1="835" y1="550.9" x2="835" y2="872.2"/><line x1="883" y1="550.9" x2="883" y2="872.2"/><line x1="931" y1="550.9" x2="931" y2="872.2"/><line x1="979" y1="550.9" x2="979" y2="872.2"/><line x1="1027" y1="550.9" x2="1027" y2="872.2"/><line x1="1075" y1="550.9" x2="1075" y2="872.2"/><line x1="1123" y1="550.9" x2="1123" y2="872.2"/><line x1="1171" y1="550.9" x2="1171" y2="872.2"/><line x1="1219" y1="550.9" x2="1219" y2="872.2"/><line x1="787" y1="831.3" x2="1267" y2="831.3"/><line x1="787" y1="790.4" x2="1267" y2="790.4"/><line x1="787" y1="749.5" x2="1267" y2="749.5"/><line x1="787" y1="708.6" x2="1267" y2="708.6"/><line x1="787" y1="667.7" x2="1267" y2="667.7"/><line x1="787" y1="626.8" x2="1267" y2="626.8"/><line x1="787" y1="585.9" x2="1267" y2="585.9"/></g>
<g clip-path="url(#c5)" fill="none" stroke-width="2.8" stroke-linejoin="round" stroke-linecap="butt">
<path d="M786.9 773 791.6 772.8 796.1 773 800.5 773.8 802.5 774.4 804.4 775 807.7 776.6 809 777.5 810.6 778.7 812.1 780 813.4 781.4 815.9 784.5 818 788 820 791.9 821.7 796.4 823.1 800.9 824 804.5 824.8 808.4 828 827 828.9 831.6 829.9 835.5 L830.5 579.7 830.7 582.1 831.1 584.4 831.6 586.8 832.2 588.8 833.1 591 833.9 592.9 834.9 594.6 836 596.3 837.3 597.8 838.9 599.5 840.3 600.8 842.2 602.2 843.8 603.2 845.8 604.3 847.9 605.3 850 606 852.5 606.8 855.3 607.4 858.2 607.8 861.5 608.2 866.9 608.4 884.9 608.7 891.6 609.1 897.7 609.6 902.7 610.2 907.3 610.8 911.8 611.7 916 612.6 920.8 613.8 925.6 615.3 929.9 616.9 934.2 618.7 937.8 620.4 941.6 622.5 956.2 630.9 962.1 634.1 965.4 635.7 968.5 637 971.3 638.1 974.1 639 977.9 640 981.8 640.6 985.8 641.1 1000.1 642.3 1010.1 643.4 1020.7 644.9 1030.6 646.7 1040 648.8 1048.7 651.2 1057.2 654.1 1066.2 657.5 1073.8 660.8 1082.6 664.9 1111.3 678.7 1149.9 696.8 1165.5 704.4 1177.6 710.7 1190.9 717.8 1245.6 747.8 1256.8 753.7 1267.2 759.1 " stroke="#000000"/>
<path d="M786.9 773 791.6 772.8 796.1 773 800.5 773.8 802.5 774.4 804.4 775 807.7 776.6 809 777.5 810.6 778.7 812.1 780 813.4 781.4 815.9 784.5 818 788 820 791.9 821.7 796.4 823.1 800.9 824 804.5 824.8 808.4 828 827 828.9 831.6 829.9 835.5 L830.5 579.7 832 586.9 833.1 590.6 834.5 594.1 835.3 595.6 836.2 596.9 837.2 598.2 838.6 599.6 840.1 600.9 841.7 602.1 845.2 604 847.3 605 849.5 605.8 852.3 606.6 855.1 607.2 858.4 607.8 861.9 608.1 867.9 608.4 886.8 608.9 893.2 609.2 899.3 609.7 904 610.3 908.3 610.9 912.5 611.7 916.4 612.6 921.2 613.9 925.9 615.5 930.2 617.2 934.3 619.1 937.8 621.1 941.8 623.5 956.8 633.7 963.4 637.8 967.2 639.9 971.1 641.7 975.1 643.3 978.8 644.6 982.3 645.6 985.8 646.3 989.1 646.8 992.7 647.2 1000 647.4 1014.2 647.1 1020.2 647.2 1026.6 647.6 1033.2 648.5 1037.5 649.3 1041.7 650.2 1046.2 651.4 1050.7 652.7 1060.2 655.9 1070.1 659.8 1079 663.6 1089.6 668.5 1142.9 694 1162.6 703.7 1175 710.2 1188.5 717.5 1244.5 748.6 1256.3 754.9 1267.2 760.6 " stroke="#3953a4"/>
<path d="M786.9 773 789.3 772.8 791.3 772.7 795.5 772.9 797.8 773.3 799.8 773.7 801.8 774.3 803.6 775 805.4 775.9 807.1 776.9 810 779 811.5 780.3 812.8 781.8 815.2 784.9 817.3 788.4 819.2 792.4 820.9 796.8 822.3 801.6 823.2 805.2 824.1 809.5 827.3 827.7 829 835.5 L829.3 580.3 830.5 587.2 831.3 590.6 832.4 593.8 833.7 596.6 835.4 599 837.8 601.4 840.7 603.6 843.9 605.3 847 606.6 850.4 607.7 853.9 608.5 857.8 609 861.1 609.3 864.7 609.4 877.5 609.4 883.6 609.6 890.7 610.1 897.4 610.9 903 611.8 908.5 613 913.7 614.3 918.7 615.9 923.4 617.7 927.9 619.6 932.3 621.9 936.3 624.2 940.2 626.8 944.2 629.7 958.3 640.8 964 645 966.8 646.8 969.4 648.3 971.8 649.5 974.2 650.5 976.4 651.1 978.9 651.7 981.9 652 984.9 652.1 990.6 652 1008.3 650.8 1015.9 650.5 1019.9 650.5 1023.8 650.6 1027.5 650.9 1031.5 651.3 1036.1 652.1 1040.8 653 1045.7 654.2 1050.6 655.6 1055.3 657.2 1060.3 659 1065.3 661 1070.7 663.5 1081.5 668.7 1102.2 679.4 1110.8 683.8 1119.6 687.9 1139.5 696.9 1148.2 701 1155.9 705 1162.9 708.9 1167.6 711.9 1172.3 715.1 1177.2 718.6 1182.2 722.4 1192 730.5 1210.3 746.2 1217.7 752.4 1225.8 758.9 1233 764.1 1237.4 767.1 1241.9 769.9 1246.2 772.4 1250.4 774.5 1254.6 776.6 1258.9 778.4 1263 779.9 1267.2 781.3 " stroke="#ed1c24"/>
</g>
<rect x="787" y="545" width="480" height="327.2" fill="none" stroke="#000" stroke-width="2"/>
<path d="M787 872.2v6M835 872.2v6M883 872.2v6M931 872.2v6M979 872.2v6M1027 872.2v6M1075 872.2v6M1123 872.2v6M1171 872.2v6M1219 872.2v6M1267 872.2v6M811 872.2v3.5M859 872.2v3.5M907 872.2v3.5M955 872.2v3.5M1003 872.2v3.5M1051 872.2v3.5M1099 872.2v3.5M1147 872.2v3.5M1195 872.2v3.5M1243 872.2v3.5M787 872.2h-6M787 831.3h-6M787 790.4h-6M787 749.5h-6M787 708.6h-6M787 667.7h-6M787 626.8h-6M787 585.9h-6M787 545h-6M787 851.8h-3.5M787 810.9h-3.5M787 770h-3.5M787 729h-3.5M787 688.2h-3.5M787 647.2h-3.5M787 606.4h-3.5M787 565.5h-3.5" stroke="#000" stroke-width="1.8" fill="none"/>
<g class="h" font-size="13.5" font-weight="bold" letter-spacing="-0.55">
<text transform="translate(787.3 894.8) scale(1.15 1)" text-anchor="middle">0</text>
<text transform="translate(835.3 894.8) scale(1.15 1)" text-anchor="middle">2</text>
<text transform="translate(883.3 894.8) scale(1.15 1)" text-anchor="middle">4</text>
<text transform="translate(931.3 894.8) scale(1.15 1)" text-anchor="middle">6</text>
<text transform="translate(979.3 894.8) scale(1.15 1)" text-anchor="middle">8</text>
<text transform="translate(1027.3 894.8) scale(1.15 1)" text-anchor="middle">10</text>
<text transform="translate(1075.3 894.8) scale(1.15 1)" text-anchor="middle">12</text>
<text transform="translate(1123.3 894.8) scale(1.15 1)" text-anchor="middle">14</text>
<text transform="translate(1171.3 894.8) scale(1.15 1)" text-anchor="middle">16</text>
<text transform="translate(1219.3 894.8) scale(1.15 1)" text-anchor="middle">18</text>
<text transform="translate(1267.3 894.8) scale(1.15 1)" text-anchor="middle">20</text>
<text transform="translate(775.7 876.7) scale(1.15 1)" text-anchor="end">-4</text>
<text transform="translate(775.7 835.8) scale(1.15 1)" text-anchor="end">-3</text>
<text transform="translate(775.7 794.9) scale(1.15 1)" text-anchor="end">-2</text>
<text transform="translate(775.7 754) scale(1.15 1)" text-anchor="end">-1</text>
<text transform="translate(775.7 713.1) scale(1.15 1)" text-anchor="end">0</text>
<text transform="translate(775.7 672.2) scale(1.15 1)" text-anchor="end">1</text>
<text transform="translate(775.7 631.3) scale(1.15 1)" text-anchor="end">2</text>
<text transform="translate(775.7 590.4) scale(1.15 1)" text-anchor="end">3</text>
<text transform="translate(775.7 549.5) scale(1.15 1)" text-anchor="end">4</text>
</g>
<g class="g" stroke-dasharray="5.00 5.92"><line x1="1429.6" y1="550.9" x2="1429.6" y2="872.2"/><line x1="1509.9" y1="550.9" x2="1509.9" y2="872.2"/><line x1="1590.2" y1="550.9" x2="1590.2" y2="872.2"/><line x1="1670.4" y1="550.9" x2="1670.4" y2="872.2"/><line x1="1750.7" y1="550.9" x2="1750.7" y2="872.2"/><line x1="1349.3" y1="831.3" x2="1831" y2="831.3"/><line x1="1349.3" y1="790.4" x2="1831" y2="790.4"/><line x1="1349.3" y1="749.5" x2="1831" y2="749.5"/><line x1="1349.3" y1="708.6" x2="1831" y2="708.6"/><line x1="1349.3" y1="667.7" x2="1831" y2="667.7"/><line x1="1349.3" y1="626.8" x2="1831" y2="626.8"/><line x1="1349.3" y1="585.9" x2="1831" y2="585.9"/></g>
<g clip-path="url(#c6)" fill="none" stroke-width="2.8" stroke-linejoin="round" stroke-linecap="butt">
<path d="M1349.1 773 1352.5 772.8 1355.6 773 1358.6 773.7 1360.2 774.3 1361.4 774.9 1363.6 776.4 1365.8 778.5 1367.5 780.9 1369 783.8 1369.8 786 1370.4 788.6 1371 791.6 1371.4 795 1373.3 817.8 1373.9 826.1 1374.2 833.9 L1374.8 583.4 1375 588.8 1375.8 599 1376.3 607.7 1376.7 611.4 1377.2 614.7 1378.3 618.7 1378.9 620.2 1379.7 621.7 1380.6 623.1 1381.4 624 1382.6 625.2 1383.9 626.1 1385.9 627.3 1388 628.1 1390.2 628.7 1392.8 629.1 1396.8 629.4 1406.7 629.4 1413.4 629.6 1420.8 630.2 1427.7 631.1 1433.2 632 1438.4 633.1 1443.9 634.5 1449 636 1455.6 638.3 1461.8 640.8 1467.7 643.5 1473 646.4 1477.6 649.2 1481.9 652.4 1485.6 655.6 1489 659.2 1490.8 661.5 1492.7 664.2 1494.5 667.1 1496.2 670.3 1497.8 673.6 1499.2 677.1 1500.7 680.9 1502.1 685.1 1504.8 694.1 1507.2 704.1 1509.3 713.8 1512.4 730.1 1513.9 736.7 1515.8 743.4 1516.9 746.6 1518 749.4 1520 753.7 1522.1 757.5 1524.4 761.2 1527 764.7 1529.8 768 1532.8 771.1 1535.8 773.8 1539.2 776.4 1542 778.3 1544.8 780 1548 781.8 1551.3 783.4 1558.4 786.5 1566.9 789.6 1576.2 792.4 1585.9 795 1595.7 797.1 1605.8 798.8 1614.8 800 1623.7 800.9 1633 801.5 1642.7 801.8 1654 801.9 1665.3 801.6 1675 801 1689.1 799.9 1693.1 799.7 1695.7 799.7 1698 799.9 1700.3 800.3 1702.6 800.9 1704.5 801.6 1706.3 802.5 1708 803.5 1709.4 804.4 1711 805.7 1712.2 806.8 1713.5 808.4 1714.5 809.7 1715.8 812.1 1717.1 814.9 1721.4 826.8 1724.9 835.5 L1725.5 580.3 1729.2 592.7 1730.8 597.9 1732.9 603 1734.9 606.9 1736.2 608.9 1737.4 610.4 1738.8 611.9 1740.5 613.4 1742.3 614.7 1744.3 615.9 1746.4 617 1748.6 617.9 1752.1 618.9 1755.7 619.6 1759.7 620 1764.8 620.2 1786.9 619.8 1831 618.4 " stroke="#000000"/>
<path d="M1349.1 773 1352.5 772.8 1355.6 773 1358.6 773.7 1360.2 774.3 1361.4 774.9 1363.6 776.4 1365.8 778.5 1367.5 780.9 1369 783.8 1369.8 786 1370.4 788.6 1371 791.6 1371.4 795 1373.3 817.8 1373.9 826.1 1374.2 833.9 L1374.8 581.2 1375.2 586.6 1375.6 598.5 1375.9 603.9 1376.5 609.5 1377.4 614.6 1378.5 618.6 1379.3 620.4 1380.1 621.9 1381.3 623.4 1382.3 624.6 1383.6 625.6 1384.9 626.4 1386.6 627.2 1388.7 627.7 1390.9 628 1393.2 628.1 1397.7 627.8 1417.3 625.6 1423.5 625.1 1429.1 624.8 1435.4 624.6 1441.1 624.6 1446.5 624.9 1451.1 625.5 1455.8 626.3 1460 627.4 1464.1 628.8 1467.8 630.4 1471.7 632.5 1475.3 634.9 1478.7 637.6 1481.6 640.3 1483.4 642.3 1484.8 644.1 1486.3 646.2 1487.5 648.2 1489.8 652.6 1491.9 657.9 1493.2 662.1 1494.5 667 1500.1 691.1 1503.2 703.3 1504.7 708.4 1505.9 712.3 1507.2 715.7 1508.8 719.1 1510.7 722.6 1513.1 726.2 1516 729.9 1519.5 734 1523 737.5 1526.9 741.2 1530.9 744.6 1535.4 748 1541.2 752 1547.4 755.8 1554.2 759.6 1561.4 763.2 1569.6 767 1577.9 770.5 1585.7 773.3 1593 775.7 1598.4 777.2 1604 778.5 1609.5 779.5 1615.8 780.5 1627.1 781.9 1651.6 784.2 1658.3 785 1663.9 785.9 1669.8 787.1 1675.3 788.6 1680 790.2 1684.6 792.1 1687.3 793.4 1690.2 795.1 1692.8 796.7 1695.5 798.6 1698.1 800.7 1700.7 802.9 1703.1 805.2 1705.7 807.8 1709.6 812.4 1713.2 817.2 1716 821.3 1723 832.3 1726.2 837 L1726.8 580.3 1730.7 585.7 1734.6 590.4 1738.5 594.5 1742.5 598.1 1746.5 601.1 1750.5 603.6 1754.9 605.9 1759.9 607.9 1765.7 609.8 1772.5 611.6 1780.5 613.3 1789 614.8 1797.6 616 1806.9 617.1 1817.3 618 1831 619 " stroke="#3953a4"/>
<path d="M1349.1 773 1352.5 772.8 1355.6 773 1358.6 773.7 1360.2 774.3 1361.4 774.9 1363.6 776.4 1365.8 778.5 1367.5 780.9 1369 783.8 1369.8 786 1370.4 788.6 1371 791.6 1371.4 795 1373.3 817.8 1373.9 826.1 1374.2 833.9 L1374.8 583.4 1375.3 589.3 1375.7 600.7 1376 605.4 1376.5 610.1 1377.3 614.4 1377.9 616.7 1378.6 619 1379.4 620.9 1380.2 622.3 1381.1 623.6 1382.2 624.8 1383.4 625.8 1384.7 626.7 1386.4 627.4 1388.2 628 1390.5 628.3 1392.8 628.4 1397 628.2 1417.8 626.1 1429 625.4 1435 625.2 1440 625.3 1444.7 625.6 1449.4 626.1 1453.7 626.9 1457.9 628 1461.7 629.3 1465.4 630.9 1469.2 633 1472.5 635.3 1475.9 638 1478.8 640.7 1482.1 644.5 1483.6 646.6 1484.9 648.6 1487.2 653 1489.2 657.9 1490.7 662.3 1492.1 667.2 1497.3 689.5 1500.2 700 1501.9 705.4 1503.6 710.1 1505.5 714.7 1507.5 719 1509.7 723.1 1512.1 727.1 1514.6 730.7 1517.3 734 1520.5 737.4 1523.9 740.6 1527.7 743.9 1531.7 747 1537.8 751.2 1544.6 755.5 1551.5 759.5 1558.5 763.2 1566 766.8 1573.4 770 1580.6 772.7 1587.9 775.1 1593.7 776.8 1599.5 778.3 1605.8 779.6 1612 780.7 1623.6 782.2 1648.4 784.9 1654.7 785.8 1660 786.7 1665.3 787.9 1670.1 789.2 1674.5 790.7 1678.4 792.4 1681.1 793.8 1683.3 795.1 1685.6 796.6 1688 798.4 1690.3 800.4 1692.8 802.6 1697.5 807.5 1701.6 812.5 1705.9 818.3 1710 824.4 1718.1 837 L1718.7 580.3 1721.6 585.3 1725 589.9 1728.7 594.2 1730.9 596.3 1733.1 598.3 1737.5 601.8 1740 603.5 1742.6 605 1747.9 607.8 1753.7 610.3 1760.1 612.5 1767.2 614.6 1775.4 616.5 1783.9 618.1 1792.1 619.4 1801.4 620.6 1831 623.6 " stroke="#ed1c24"/>
</g>
<rect x="1349.3" y="545" width="481.7" height="327.2" fill="none" stroke="#000" stroke-width="2"/>
<path d="M1349.3 872.2v6M1429.6 872.2v6M1509.9 872.2v6M1590.2 872.2v6M1670.4 872.2v6M1750.7 872.2v6M1831 872.2v6M1389.4 872.2v3.5M1469.7 872.2v3.5M1550 872.2v3.5M1630.3 872.2v3.5M1710.6 872.2v3.5M1790.9 872.2v3.5M1349.3 872.2h-6M1349.3 831.3h-6M1349.3 790.4h-6M1349.3 749.5h-6M1349.3 708.6h-6M1349.3 667.7h-6M1349.3 626.8h-6M1349.3 585.9h-6M1349.3 545h-6M1349.3 851.8h-3.5M1349.3 810.9h-3.5M1349.3 770h-3.5M1349.3 729h-3.5M1349.3 688.2h-3.5M1349.3 647.2h-3.5M1349.3 606.4h-3.5M1349.3 565.5h-3.5" stroke="#000" stroke-width="1.8" fill="none"/>
<g class="h" font-size="13.5" font-weight="bold" letter-spacing="-0.55">
<text transform="translate(1349.6 894.8) scale(1.15 1)" text-anchor="middle">0</text>
<text transform="translate(1429.9 894.8) scale(1.15 1)" text-anchor="middle">1</text>
<text transform="translate(1510.2 894.8) scale(1.15 1)" text-anchor="middle">2</text>
<text transform="translate(1590.5 894.8) scale(1.15 1)" text-anchor="middle">3</text>
<text transform="translate(1670.7 894.8) scale(1.15 1)" text-anchor="middle">4</text>
<text transform="translate(1751 894.8) scale(1.15 1)" text-anchor="middle">5</text>
<text transform="translate(1831.3 894.8) scale(1.15 1)" text-anchor="middle">6</text>
<text transform="translate(1338 876.7) scale(1.15 1)" text-anchor="end">-4</text>
<text transform="translate(1338 835.8) scale(1.15 1)" text-anchor="end">-3</text>
<text transform="translate(1338 794.9) scale(1.15 1)" text-anchor="end">-2</text>
<text transform="translate(1338 754) scale(1.15 1)" text-anchor="end">-1</text>
<text transform="translate(1338 713.1) scale(1.15 1)" text-anchor="end">0</text>
<text transform="translate(1338 672.2) scale(1.15 1)" text-anchor="end">1</text>
<text transform="translate(1338 631.3) scale(1.15 1)" text-anchor="end">2</text>
<text transform="translate(1338 590.4) scale(1.15 1)" text-anchor="end">3</text>
<text transform="translate(1338 549.5) scale(1.15 1)" text-anchor="end">4</text>
</g>
<g class="g" stroke-dasharray="5.00 5.92"><line x1="285.2" y1="948.3" x2="285.2" y2="1266.1"/><line x1="333.2" y1="948.3" x2="333.2" y2="1266.1"/><line x1="381.3" y1="948.3" x2="381.3" y2="1266.1"/><line x1="429.3" y1="948.3" x2="429.3" y2="1266.1"/><line x1="477.3" y1="948.3" x2="477.3" y2="1266.1"/><line x1="525.4" y1="948.3" x2="525.4" y2="1266.1"/><line x1="573.4" y1="948.3" x2="573.4" y2="1266.1"/><line x1="621.4" y1="948.3" x2="621.4" y2="1266.1"/><line x1="669.4" y1="948.3" x2="669.4" y2="1266.1"/><line x1="236.8" y1="1239.4" x2="717.3" y2="1239.4"/><line x1="236.8" y1="1185.4" x2="717.3" y2="1185.4"/><line x1="236.8" y1="1131.4" x2="717.3" y2="1131.4"/><line x1="236.8" y1="1077.4" x2="717.3" y2="1077.4"/><line x1="236.8" y1="1023.4" x2="717.3" y2="1023.4"/><line x1="236.8" y1="969.4" x2="717.3" y2="969.4"/></g>
<g clip-path="url(#c7)" fill="none" stroke-width="2.8" stroke-linejoin="round" stroke-linecap="butt">
<path d="M236.8 1239.3 249.4 1239 260.4 1238.5 270.7 1237.7 280.4 1236.7 289.7 1235.3 298.3 1233.7 306.4 1231.7 314.4 1229.4 322.2 1226.7 330.2 1223.4 338.1 1219.7 346.1 1215.6 354.2 1210.8 362 1205.8 370 1200.2 378 1194.2 385.1 1188.6 391.9 1182.7 398.8 1176.5 405.8 1169.8 412.9 1162.8 420 1155.3 427.5 1147.2 435.2 1138.5 443.3 1129.1 452.1 1118.6 479.6 1084.9 503.4 1056.2 516.4 1039.8 541.5 1007.3 548.3 998.9 554.8 991.6 559.1 987 563.4 982.8 567.9 978.7 572.2 975.1 576.7 971.6 581.1 968.6 585.4 965.9 589.8 963.5 594.9 961.2 599.9 959.5 602.7 958.8 605.3 958.3 610.5 957.6 615.7 957.4 620.9 957.8 626.4 958.7 632.3 960.1 637.1 961.6 642.5 963.6 648.5 966 655.4 969.1 668.4 975.3 690.9 986.8 699.8 991.2 709.1 995.7 717.4 999.3 " stroke="#000000"/>
<path d="M236.8 1239.3 249 1239 260 1238.5 270.1 1237.8 279.8 1236.8 289.1 1235.4 297.6 1233.8 305.7 1231.9 313.7 1229.6 321.6 1226.9 329.3 1223.8 337.2 1220.2 345.2 1216 353 1211.6 360.9 1206.6 368.9 1201.1 376.7 1195.3 383.5 1189.8 390.1 1184.3 396.8 1178.3 403.4 1172.1 410.3 1165.4 417.2 1158.2 424.3 1150.7 431.7 1142.5 439.1 1133.9 447.2 1124.5 478.2 1087.3 504 1056.8 515.1 1043.1 540.8 1010.6 548.1 1001.9 554.8 994.4 559.7 989.4 564.5 984.8 569.2 980.6 573.9 976.7 578.7 973.1 583.4 969.9 588 967 592.8 964.5 598 962.1 602.9 960.3 607.7 959.1 612.4 958.3 616.9 958 621.8 958.3 626.7 959 631.9 960.3 636.4 961.7 641.5 963.6 647 965.8 653.9 968.9 668.4 975.8 701.2 992.1 717.4 999.6 " stroke="#3953a4"/>
<path d="M236.8 1239 246.7 1238.9 256.1 1238.5 264.8 1238 272.8 1237.2 280.5 1236.2 288.1 1235 295.3 1233.4 302.1 1231.7 308.4 1229.7 314.7 1227.5 321.1 1224.8 327.4 1221.8 333.9 1218.4 340.2 1214.7 346.4 1210.8 352.7 1206.4 357.5 1202.7 362.2 1199 366.9 1195.1 371.6 1190.9 376.3 1186.6 381 1181.9 386 1176.9 390.8 1171.8 399.2 1162.4 408.3 1151.7 416.9 1141 438.9 1113.6 451.3 1098.8 457.9 1091.3 464.2 1084.4 470.4 1078 477.3 1071.3 487 1062.2 498.7 1051.8 532.9 1022 544.3 1012.5 553 1005.8 557.1 1003 561.2 1000.2 565.2 997.8 569.2 995.5 573.3 993.3 577.1 991.4 583.8 988.6 590.8 986.3 597.5 984.5 604 983.4 610.3 982.8 616.6 982.7 623.2 983.2 629.8 984.2 636 985.6 642.5 987.4 649.6 989.7 657.2 992.4 663.7 995 670.8 998 701.9 1011.8 709.9 1015 717.4 1017.8 " stroke="#ed1c24"/>
</g>
<rect x="236.8" y="942.4" width="480.5" height="323.7" fill="none" stroke="#000" stroke-width="2"/>
<path d="M236.8 1266.1v6M285.2 1266.1v6M333.2 1266.1v6M381.3 1266.1v6M429.3 1266.1v6M477.3 1266.1v6M525.4 1266.1v6M573.4 1266.1v6M621.4 1266.1v6M669.4 1266.1v6M717.3 1266.1v6M261.2 1266.1v3.5M309.2 1266.1v3.5M357.3 1266.1v3.5M405.3 1266.1v3.5M453.3 1266.1v3.5M501.3 1266.1v3.5M549.4 1266.1v3.5M597.4 1266.1v3.5M645.4 1266.1v3.5M693.4 1266.1v3.5M236.8 1239.4h-6M236.8 1185.4h-6M236.8 1131.4h-6M236.8 1077.4h-6M236.8 1023.4h-6M236.8 969.4h-6M236.8 1266.4h-3.5M236.8 1212.4h-3.5M236.8 1158.4h-3.5M236.8 1104.4h-3.5M236.8 1050.4h-3.5M236.8 996.4h-3.5M236.8 942.4h-3.5" stroke="#000" stroke-width="1.8" fill="none"/>
<g class="h" font-size="14.3" font-weight="bold" letter-spacing="-0.55" clip-path="url(#k7)">
<text transform="translate(237.1 1287.9) scale(1.15 1)" text-anchor="middle">0</text>
<text transform="translate(285.5 1287.9) scale(1.15 1)" text-anchor="middle">2</text>
<text transform="translate(333.6 1287.9) scale(1.15 1)" text-anchor="middle">4</text>
<text transform="translate(381.6 1287.9) scale(1.15 1)" text-anchor="middle">6</text>
<text transform="translate(429.6 1287.9) scale(1.15 1)" text-anchor="middle">8</text>
<text transform="translate(477.6 1287.9) scale(1.15 1)" text-anchor="middle">10</text>
<text transform="translate(525.6 1287.9) scale(1.15 1)" text-anchor="middle">12</text>
<text transform="translate(573.7 1287.9) scale(1.15 1)" text-anchor="middle">14</text>
<text transform="translate(621.7 1287.9) scale(1.15 1)" text-anchor="middle">16</text>
<text transform="translate(669.7 1287.9) scale(1.15 1)" text-anchor="middle">18</text>
<text transform="translate(717.6 1287.9) scale(1.15 1)" text-anchor="middle">20</text>
<text transform="translate(225.5 1244.1) scale(1.15 1)" text-anchor="end">0</text>
<text transform="translate(225.5 1190.1) scale(1.15 1)" text-anchor="end">40</text>
<text transform="translate(225.5 1136.1) scale(1.15 1)" text-anchor="end">80</text>
<text transform="translate(225.5 1082.1) scale(1.15 1)" text-anchor="end">120</text>
<text transform="translate(225.5 1028.1) scale(1.15 1)" text-anchor="end">160</text>
<text transform="translate(225.5 974.1) scale(1.15 1)" text-anchor="end">200</text>
</g>
<g class="g" stroke-dasharray="5.00 5.92"><line x1="846.8" y1="948.3" x2="846.8" y2="1265.8"/><line x1="894.9" y1="948.3" x2="894.9" y2="1265.8"/><line x1="943" y1="948.3" x2="943" y2="1265.8"/><line x1="991.1" y1="948.3" x2="991.1" y2="1265.8"/><line x1="1039.1" y1="948.3" x2="1039.1" y2="1265.8"/><line x1="1087.2" y1="948.3" x2="1087.2" y2="1265.8"/><line x1="1135.3" y1="948.3" x2="1135.3" y2="1265.8"/><line x1="1183.4" y1="948.3" x2="1183.4" y2="1265.8"/><line x1="1231.5" y1="948.3" x2="1231.5" y2="1265.8"/><line x1="798.7" y1="1246" x2="1279.6" y2="1246"/><line x1="798.7" y1="1205.5" x2="1279.6" y2="1205.5"/><line x1="798.7" y1="1165.1" x2="1279.6" y2="1165.1"/><line x1="798.7" y1="1124.6" x2="1279.6" y2="1124.6"/><line x1="798.7" y1="1084.1" x2="1279.6" y2="1084.1"/><line x1="798.7" y1="1043.6" x2="1279.6" y2="1043.6"/><line x1="798.7" y1="1003.2" x2="1279.6" y2="1003.2"/><line x1="798.7" y1="962.7" x2="1279.6" y2="962.7"/></g>
<g clip-path="url(#c8)" fill="none" stroke-width="2.8" stroke-linejoin="round" stroke-linecap="butt">
<path d="M798.7 1245.8 800.5 1245.6 802.2 1245.3 803.8 1244.8 805.6 1244 807.3 1243 808.9 1241.8 810.4 1240.5 811.7 1239.1 813.2 1237.3 814.6 1235.3 817.1 1230.9 819.5 1225.7 821.5 1220.1 823.3 1213.6 825.1 1205.9 826.7 1197.7 828.1 1189.2 829.9 1176.2 833.5 1144.4 836.5 1121.7 836.9 1119.8 837.6 1118 838.4 1116.8 839.5 1116 840.4 1115.8 840.8 1115.9 841.2 1116.2 841.9 1117.1 842.7 1118.8 843.5 1121.2 849.3 1141 851 1145.7 852.7 1149.8 854.5 1153.5 856.5 1156.7 858.7 1159.7 860.9 1162.1 862.3 1163.5 863.8 1164.7 865.5 1165.8 867.1 1166.8 868.9 1167.7 871.1 1168.5 875.6 1169.9 880.6 1170.9 885 1171.4 887 1171.4 889.3 1171.2 893.5 1170.5 898 1169.1 902.9 1167 908.2 1164.2 913.5 1160.7 920.2 1155.8 929.3 1148.4 935.3 1143 940.2 1138.1 943.1 1134.8 945.9 1131.2 948.9 1127.1 952.2 1122.1 959.5 1110.5 975 1084.4 979.7 1077.1 982.7 1073 985.5 1069.7 988.3 1066.9 991.3 1064.3 995.1 1061.6 999.5 1059 1004 1056.8 1009 1054.8 1015.3 1052.7 1027.1 1049.2 1037.3 1046.1 1040.8 1045.2 1047.9 1043.8 1050.8 1043.1 1053 1042.3 1055.1 1041.4 1059.2 1039.3 1063.6 1036.4 1068.3 1032.7 1072.7 1028.6 1083 1018.3 1088.2 1013.6 1095.6 1007.1 1105.5 999.2 1114.6 992.3 1122 987.1 1125.1 985.2 1128.2 983.4 1131.2 981.9 1133.9 980.7 1137.7 979.3 1141.9 978.1 1146.2 977.3 1150.6 976.8 1154.6 976.7 1158.6 976.9 1162.9 977.4 1167.5 978.3 1172 979.4 1177.1 980.8 1198.2 987.2 1210.6 991.2 1239.6 1001.1 1253.9 1005.7 1267.4 1009.5 1273.5 1011.1 1279.7 1012.5 " stroke="#000000"/>
<path d="M798.7 1245.8 800.5 1245.6 802.2 1245.3 803.8 1244.8 805.6 1244 807.3 1243 808.9 1241.8 810.4 1240.5 811.7 1239.1 813.2 1237.3 814.6 1235.3 816 1233 817.3 1230.6 819.6 1225.4 821.7 1219.4 823.4 1213.3 825.2 1205.5 826.9 1196.7 828.4 1187.5 830.2 1173.9 833.2 1146.7 835.2 1132 836.2 1122.6 836.7 1120.7 837.1 1119.2 837.8 1117.9 838.7 1116.8 839.7 1116 840.3 1115.8 840.8 1115.9 841.2 1116.1 841.5 1116.5 842.4 1118 843.5 1121.3 849.2 1140.4 850.5 1144.6 852.5 1149.6 853.5 1151.7 854.6 1153.8 855.9 1155.7 857.3 1157.6 858.8 1159.3 860.5 1161 862.2 1162.6 864.3 1164.2 866.3 1165.6 868.6 1167 871.5 1168.5 874.6 1169.8 877.8 1170.9 880.9 1171.7 884.2 1172.4 887.8 1172.8 891.1 1173 894.8 1173 898.4 1172.8 902.5 1172.3 906.5 1171.6 910.1 1170.7 914 1169.6 917.5 1168.3 920.9 1166.9 924.2 1165.2 928.3 1162.9 931.8 1160.4 935.4 1157.5 938.5 1154.6 941.6 1151.2 944.3 1147.5 947 1143.3 949.5 1139 951.7 1134.4 953.8 1129.8 955.9 1124.4 958 1118.4 962.4 1105 969.9 1080 973 1070.1 976.2 1060.5 979.3 1052.4 980.9 1048.8 982.2 1046.1 983.7 1043.5 985.2 1041.3 987 1039.2 988.7 1037.5 990.6 1036 992.6 1034.8 994.7 1034 996.6 1033.6 998.9 1033.5 1001.6 1033.8 1006 1034.7 1020.6 1038.8 1026.8 1040.3 1033.2 1041.5 1036.2 1041.8 1038.9 1042 1041.5 1042 1044.5 1041.9 1047.5 1041.6 1050.4 1041.1 1053.4 1040.4 1056.2 1039.6 1059.1 1038.7 1062.2 1037.4 1064.9 1036.2 1067.8 1034.6 1070.4 1033.1 1073.3 1031.2 1075.7 1029.5 1078.3 1027.4 1080.9 1025.2 1083.3 1022.8 1086.7 1019.2 1090.2 1015.1 1103 998.5 1110.8 989 1116 983.2 1118.3 980.8 1120.6 978.8 1122.9 976.9 1125.4 975.3 1127.6 974 1130 972.9 1132.5 972 1135.4 971.2 1138.4 970.7 1141.4 970.3 1144.1 970.2 1147.2 970.2 1150.3 970.3 1153.3 970.7 1156.6 971.2 1159.9 971.8 1166.9 973.7 1175.2 976.3 1193.8 982.6 1232.8 996.5 1248.2 1001.8 1256.8 1004.5 1264.8 1007 1272.2 1009.1 1279.6 1011 " stroke="#3953a4"/>
<path d="M798.7 1245.8 800.5 1245.6 802.5 1245.2 804.1 1244.6 805.9 1243.8 807.6 1242.8 809.1 1241.6 810.6 1240.3 811.9 1238.8 813.4 1237 814.7 1235.1 816.1 1232.7 817.4 1230.3 819.7 1225.1 821.8 1219.1 823.3 1213.6 824.8 1207.2 826.3 1199.6 827.7 1191.8 828.8 1184.2 829.9 1175.9 833.7 1142.4 836.3 1122.7 836.7 1120.6 837.2 1119 837.6 1117.9 838.3 1117 838.9 1116.5 839.5 1116.1 840.1 1116 840.8 1116.1 841.2 1116.3 841.7 1116.9 842.6 1118.6 843.5 1121.1 847.1 1133.4 850.7 1144.9 853 1150.8 854.3 1153.5 855.6 1155.9 856.8 1157.8 858.2 1159.7 859.6 1161.6 861.5 1163.6 863.2 1165.2 865.2 1166.9 867.4 1168.6 869.4 1169.9 872.3 1171.5 875 1172.8 877.8 1173.8 881 1174.7 884.2 1175.3 887.8 1175.8 891.5 1176.1 895.5 1176.2 899.9 1176.1 904.3 1175.8 908.3 1175.3 911.9 1174.6 915.5 1173.7 918.6 1172.7 921.7 1171.4 924.6 1169.9 928.3 1167.5 931.9 1164.6 935.3 1161.3 938.5 1157.8 941.5 1153.8 944.2 1149.6 946.8 1145 949.1 1140.2 951 1135.6 952.9 1130.6 954.8 1125.1 956.6 1119 961 1103.3 971.1 1064.6 973.8 1055.2 976.4 1047.4 977.6 1044.1 978.9 1041 980.3 1038.3 981.8 1035.9 983.2 1033.8 984.8 1032 986.3 1030.7 987.9 1029.6 990 1028.9 992.2 1028.6 994.8 1028.7 997.5 1029.2 999.8 1029.9 1002.7 1031 1013 1035.5 1018.9 1037.7 1022.5 1038.8 1025.7 1039.6 1029 1040.2 1032 1040.6 1035.3 1040.9 1038.3 1041 1041.7 1040.8 1044.7 1040.5 1048 1039.9 1051 1039.2 1053.8 1038.3 1056.6 1037.3 1059 1036.1 1061.7 1034.7 1064.2 1033.1 1066.6 1031.3 1069 1029.5 1071.5 1027.2 1074.1 1024.6 1076.7 1022 1081 1016.9 1085.8 1010.8 1090.1 1004.9 1099.7 991.3 1104.2 985.2 1107.6 981.1 1110.6 977.9 1112.6 976.1 1114.8 974.5 1117.1 973 1119.5 971.7 1121.7 970.8 1123.9 970 1126.1 969.5 1128.7 969.1 1132.7 968.9 1136.7 969.1 1141 969.7 1146 970.8 1149.8 971.9 1154 973.2 1172.8 979.8 1184.3 983.4 1190.4 985.1 1196.9 986.7 1203.7 988.2 1211.2 989.8 1222.4 991.9 1241.4 995.2 1249.4 996.5 1255.6 997.4 1262.2 998.1 1268.2 998.6 1273.9 998.8 1279.6 998.7 " stroke="#ed1c24"/>
</g>
<rect x="798.7" y="942.4" width="480.9" height="323.4" fill="none" stroke="#000" stroke-width="2"/>
<path d="M798.7 1265.8v6M846.8 1265.8v6M894.9 1265.8v6M943 1265.8v6M991.1 1265.8v6M1039.1 1265.8v6M1087.2 1265.8v6M1135.3 1265.8v6M1183.4 1265.8v6M1231.5 1265.8v6M1279.6 1265.8v6M822.7 1265.8v3.5M870.8 1265.8v3.5M918.9 1265.8v3.5M967 1265.8v3.5M1015.1 1265.8v3.5M1063.2 1265.8v3.5M1111.3 1265.8v3.5M1159.4 1265.8v3.5M1207.5 1265.8v3.5M1255.6 1265.8v3.5M798.7 1246h-6M798.7 1205.5h-6M798.7 1165.1h-6M798.7 1124.6h-6M798.7 1084.1h-6M798.7 1043.6h-6M798.7 1003.2h-6M798.7 962.7h-6M798.7 1266.2h-3.5M798.7 1225.8h-3.5M798.7 1185.3h-3.5M798.7 1144.8h-3.5M798.7 1104.3h-3.5M798.7 1063.9h-3.5M798.7 1023.4h-3.5M798.7 982.9h-3.5M798.7 942.5h-3.5" stroke="#000" stroke-width="1.8" fill="none"/>
<g class="h" font-size="14.3" font-weight="bold" letter-spacing="-0.55" clip-path="url(#k8)">
<text transform="translate(799 1287.6) scale(1.15 1)" text-anchor="middle">0</text>
<text transform="translate(847.1 1287.6) scale(1.15 1)" text-anchor="middle">2</text>
<text transform="translate(895.2 1287.6) scale(1.15 1)" text-anchor="middle">4</text>
<text transform="translate(943.3 1287.6) scale(1.15 1)" text-anchor="middle">6</text>
<text transform="translate(991.4 1287.6) scale(1.15 1)" text-anchor="middle">8</text>
<text transform="translate(1039.4 1287.6) scale(1.15 1)" text-anchor="middle">10</text>
<text transform="translate(1087.5 1287.6) scale(1.15 1)" text-anchor="middle">12</text>
<text transform="translate(1135.6 1287.6) scale(1.15 1)" text-anchor="middle">14</text>
<text transform="translate(1183.7 1287.6) scale(1.15 1)" text-anchor="middle">16</text>
<text transform="translate(1231.8 1287.6) scale(1.15 1)" text-anchor="middle">18</text>
<text transform="translate(1279.9 1287.6) scale(1.15 1)" text-anchor="middle">20</text>
<text transform="translate(787.4 1250.7) scale(1.15 1)" text-anchor="end">0</text>
<text transform="translate(787.4 1210.2) scale(1.15 1)" text-anchor="end">100</text>
<text transform="translate(787.4 1169.8) scale(1.15 1)" text-anchor="end">200</text>
<text transform="translate(787.4 1129.3) scale(1.15 1)" text-anchor="end">300</text>
<text transform="translate(787.4 1088.8) scale(1.15 1)" text-anchor="end">400</text>
<text transform="translate(787.4 1048.4) scale(1.15 1)" text-anchor="end">500</text>
<text transform="translate(787.4 1007.9) scale(1.15 1)" text-anchor="end">600</text>
<text transform="translate(787.4 967.4) scale(1.15 1)" text-anchor="end">700</text>
</g>
<g class="g" stroke-dasharray="5.00 5.92"><line x1="1440.5" y1="949.2" x2="1440.5" y2="1269.2"/><line x1="1520.5" y1="949.2" x2="1520.5" y2="1269.2"/><line x1="1600.5" y1="949.2" x2="1600.5" y2="1269.2"/><line x1="1680.5" y1="949.2" x2="1680.5" y2="1269.2"/><line x1="1760.5" y1="949.2" x2="1760.5" y2="1269.2"/><line x1="1361.5" y1="1253" x2="1839.7" y2="1253"/><line x1="1361.5" y1="1204" x2="1839.7" y2="1204"/><line x1="1361.5" y1="1155.1" x2="1839.7" y2="1155.1"/><line x1="1361.5" y1="1106.2" x2="1839.7" y2="1106.2"/><line x1="1361.5" y1="1057.3" x2="1839.7" y2="1057.3"/><line x1="1361.5" y1="1008.4" x2="1839.7" y2="1008.4"/><line x1="1361.5" y1="959.5" x2="1839.7" y2="959.5"/></g>
<g clip-path="url(#c9)" fill="none" stroke-width="2.8" stroke-linejoin="round" stroke-linecap="butt">
<path d="M1361.5 1252.9 1363.2 1252.2 1365 1251.2 1366.3 1250.3 1367.8 1249 1369 1247.5 1370.2 1245.9 1371.3 1244 1372.3 1241.9 1373.3 1239.3 1374.1 1236.7 1375.7 1230.1 1376.9 1222.9 1378 1214.3 1378.8 1205.4 1379.5 1195.4 1380.7 1171.1 1382.4 1124.8 1384.9 1039.5 1385.7 1018 1386.1 1012.8 1386.4 1011 1386.6 1011.7 1386.8 1014 1387.3 1021.5 1390.1 1101.2 1390.8 1116.2 1391.5 1129.5 1392.7 1146.5 1394.1 1162.1 1395.1 1171 1396.4 1178.2 1397.2 1181.8 1398.3 1185.4 1399.4 1188.6 1400.7 1191.7 1402.1 1194.4 1403.7 1197 1405.4 1199.4 1407.2 1201.3 1409.1 1203 1411.3 1204.6 1413.5 1205.9 1416.2 1207.2 1419 1208.3 1422.3 1209.4 1425.6 1210.2 1429.6 1211.1 1435.3 1212 1440.6 1212.6 1445.2 1212.7 1449.8 1212.4 1454.4 1211.6 1458.6 1210.5 1462.9 1208.8 1466.8 1206.9 1470.2 1204.8 1473.4 1202.3 1476.5 1199.3 1479.3 1196 1482.1 1192.2 1485 1187.6 1487.8 1182.7 1490.4 1177.3 1492.4 1172.7 1494.3 1167.7 1496.1 1162.3 1497.7 1156.9 1499.2 1151.1 1500.7 1144.6 1502.2 1137.7 1503.5 1130.9 1505.8 1115.7 1508.2 1096.8 1510.4 1076.6 1514.4 1037.8 1515.6 1026.7 1516.5 1020.7 1517.3 1017.1 1518.2 1014.5 1518.7 1013.6 1519.1 1013.3 1519.5 1013.4 1519.7 1013.7 1520.5 1015.7 1521.5 1019.7 1522.2 1024.4 1523.2 1031.6 1526.4 1060.4 1528.1 1075 1530.1 1089.5 1532.1 1102.4 1533.8 1111.6 1535.5 1119.7 1537.4 1127.1 1539.5 1134.2 1542.4 1142.4 1543.8 1145.8 1545.3 1149.1 1546.9 1152.1 1548.5 1155 1550.2 1157.5 1552 1159.9 1554 1162.2 1556.1 1164.3 1558.4 1166.3 1560.5 1168 1563.1 1169.6 1565.4 1170.9 1567.9 1171.9 1570.4 1172.7 1573 1173.3 1575.6 1173.6 1578.2 1173.7 1581.2 1173.6 1584.3 1173.3 1587.3 1172.8 1590.3 1172.1 1593.5 1171.2 1596.7 1170.1 1599.8 1168.9 1603.2 1167.4 1606.7 1165.7 1615.5 1160.9 1624.3 1155.6 1633.2 1149.7 1641.9 1143.4 1650.2 1136.7 1658.6 1129.6 1666.6 1122 1674.3 1114.2 1681.9 1105.8 1688.3 1098.1 1691.7 1093.5 1694.9 1088.9 1697.7 1084.3 1700.4 1079.3 1703.1 1073.9 1705.6 1068.1 1707.9 1062.2 1710.1 1055.9 1711.9 1049.9 1713.7 1043.4 1715.4 1036.6 1717 1029.5 1719.6 1016.4 1725 987.2 1728.1 971.8 1728.6 970.1 1729.4 968.5 1730.2 967.5 1731.1 966.9 1731.6 966.9 1732.1 967.3 1732.6 968 1733.2 969.3 1734.4 973.1 1735.1 977.4 1743.1 1054.3 1745.2 1071.2 1747.6 1086 1748.9 1092.9 1750.3 1099.7 1751.7 1105.3 1752.9 1109.5 1754.1 1112.9 1755.5 1115.9 1757 1118.5 1758.8 1120.9 1760.2 1122.4 1761.5 1123.5 1762.9 1124.4 1764.4 1124.9 1766.1 1125.1 1767.9 1125.1 1770 1124.8 1772.3 1124.3 1774.8 1123.5 1777.6 1122.4 1805.1 1109.7 1811.6 1106.9 1817.1 1104.7 1823.4 1102.5 1829.2 1100.8 1834.7 1099.5 1840 1098.6 " stroke="#000000"/>
<path d="M1361.5 1252.9 1363.2 1252.3 1365 1251.3 1366.3 1250.4 1367.8 1249.1 1369 1247.6 1370.2 1246 1371.3 1243.9 1372.3 1241.8 1373.3 1239.2 1374.2 1236.3 1375.7 1230.1 1376.9 1222.9 1378.1 1213.4 1378.8 1205.1 1379.5 1195.1 1380.3 1179.7 1381.1 1163.1 1382.3 1127.4 1384.9 1037.7 1385.9 1015.4 1386.1 1012.3 1386.3 1011.3 1386.5 1011.9 1386.8 1013.9 1387.2 1019.8 1390.7 1114.2 1391.5 1130.9 1392.4 1144.5 1393.2 1153.2 1394 1161.1 1395 1169 1396.2 1176.3 1397 1180.9 1398 1184.8 1399.1 1188.3 1400.4 1191.4 1401.7 1194.1 1403.3 1196.8 1404.9 1199 1406.7 1201 1408.7 1202.8 1410.5 1204.2 1412.5 1205.3 1415 1206.3 1418.2 1207.3 1421.8 1208.1 1440.6 1211.1 1451.5 1212.7 1457.1 1213.8 1463.5 1215.5 1475.9 1219.4 1479.8 1220.4 1482.5 1220.6 1484.5 1220.5 1486.1 1219.9 1487.5 1219 1489.5 1217 1491.1 1214.8 1492.5 1212.1 1493.7 1209 1494.5 1206.1 1495.4 1202.2 1497.8 1189.4 1499.7 1178.3 1504.1 1149.6 1506.8 1134.2 1507.9 1129.6 1509.1 1125.7 1510.4 1122.5 1510.9 1121.6 1511.5 1120.9 1512.5 1120.4 1513 1120.3 1513.9 1120.3 1515.5 1120.9 1516.8 1121.7 1518.7 1123.7 1521.6 1127.6 1523.3 1129.7 1525.3 1131.8 1527.9 1134.3 1530.6 1136.8 1533.3 1138.9 1536 1140.8 1538.7 1142.3 1540.8 1143.3 1543.3 1144.3 1545.8 1145.1 1548.7 1145.8 1551.7 1146.3 1555 1146.8 1561.7 1147.2 1566.7 1147.2 1572 1147 1577.6 1146.5 1583.9 1145.7 1595.5 1144 1608.7 1142 1621.9 1139.8 1633.3 1137.7 1647.6 1134.7 1654.4 1133.1 1660 1131.6 1664.5 1130.2 1668.7 1128.8 1672.4 1127.3 1676 1125.5 1680 1123.3 1683.5 1120.8 1686.7 1118 1689.7 1115 1692.9 1111.1 1695.7 1107 1698.5 1102.3 1701.2 1097.2 1703.9 1091.3 1706.5 1085.2 1709 1078.6 1711.3 1071.8 1715.5 1058.2 1724.4 1026.6 1726.1 1020.9 1727.6 1016.5 1729.6 1011.6 1730.5 1009.9 1731.2 1008.7 1732.1 1007.5 1733.3 1006.4 1734.6 1005.5 1735.5 1005.1 1736.1 1004.9 1737 1004.9 1737.8 1005 1738.6 1005.4 1739.3 1005.9 1740.3 1006.8 1742.3 1009.2 1745.3 1013.3 1748.2 1017.8 1751.1 1022.7 1759.6 1038.1 1762.6 1042.9 1765.6 1047.3 1769.7 1052.6 1774.2 1057.7 1778.7 1062.1 1783.5 1066.2 1786.2 1068.2 1789.2 1070.3 1792.3 1072.3 1795.4 1074.1 1802 1077.4 1805.3 1078.9 1809.1 1080.3 1816.4 1082.8 1820.2 1083.8 1824.1 1084.7 1832 1086.2 1840 1087.1 " stroke="#3953a4"/>
<path d="M1361.5 1252.9 1363.2 1252.3 1365 1251.3 1366.3 1250.4 1367.8 1249.1 1369 1247.6 1370.2 1246 1371.3 1243.9 1372.3 1241.8 1373.3 1239.2 1374.2 1236.3 1375.7 1230.1 1376.9 1222.9 1378.1 1213.4 1378.8 1205.1 1379.5 1195.1 1381 1163.4 1382.3 1128.1 1385 1036.5 1385.8 1015.8 1386.1 1012.5 1386.3 1011.4 1386.5 1012.2 1386.8 1014.5 1387.2 1020.8 1390.7 1113.9 1391.5 1130.5 1392.4 1144.1 1393.1 1152.7 1394 1160.7 1395 1168.6 1396.1 1175.9 1396.9 1180.5 1397.9 1184.4 1399 1187.9 1400.2 1191 1401.5 1193.7 1403.1 1196.4 1404.7 1198.6 1406.4 1200.6 1408.4 1202.5 1410.5 1204.1 1412.5 1205.3 1414.9 1206.3 1418.4 1207.5 1422.7 1208.4 1447.3 1212.5 1455.6 1214.1 1462 1215.9 1475.3 1220.4 1478.9 1221.3 1481.2 1221.5 1483.5 1221.3 1485.4 1220.7 1486.8 1219.7 1488.5 1218 1490.3 1215.5 1491.7 1212.8 1492.7 1210 1493.5 1207.5 1494.2 1204.2 1496.5 1192.4 1498.4 1181.2 1502.9 1152.3 1504.4 1143.7 1505.9 1136.2 1507.1 1130.6 1508.4 1126.4 1509.9 1123 1510.5 1121.9 1511.2 1121.2 1512.1 1120.7 1513.6 1120.6 1515 1121.1 1516.6 1122.1 1517.6 1123.1 1518.8 1124.4 1522.5 1129.5 1524.9 1132.5 1528.9 1136.9 1531.3 1139.3 1533.6 1141.3 1535.8 1142.9 1538.1 1144.3 1540.4 1145.5 1542.9 1146.5 1545.4 1147.4 1548.3 1148.2 1551.6 1148.9 1555.6 1149.6 1559.2 1150.1 1563.2 1150.5 1568.5 1150.8 1574.5 1150.8 1580.8 1150.7 1588.1 1150.2 1596.1 1149.6 1604.1 1148.7 1611.7 1147.7 1619.3 1146.5 1625.8 1145.3 1632 1143.9 1637.7 1142.5 1643.5 1140.8 1649.2 1138.9 1654.6 1136.9 1659.3 1135 1663.8 1132.8 1668.5 1130.2 1672.7 1127.5 1676.6 1124.5 1680 1121.4 1683.1 1117.9 1686.1 1114 1689 1109.5 1691.6 1104.8 1693.8 1100.2 1695.9 1095.2 1698.1 1089.5 1700.1 1083.5 1703.1 1073.7 1708.8 1053.2 1712 1042.3 1715.2 1032.1 1718.1 1023.4 1719.8 1019.4 1721.6 1016.2 1722.5 1015 1723.4 1014 1724.4 1013.2 1725.2 1012.8 1726 1012.6 1727.1 1012.7 1728 1012.9 1729.1 1013.5 1730.3 1014.3 1731.3 1015.3 1733.3 1017.7 1735.1 1020.6 1741.7 1033.6 1746.6 1042.3 1749.1 1046.3 1751.4 1049.9 1753.9 1053.4 1756.4 1056.5 1760.8 1061.6 1765.3 1066.1 1770.1 1070.3 1775 1073.9 1778 1075.9 1781.2 1077.8 1784.4 1079.5 1787.7 1081.1 1791 1082.5 1794.8 1083.9 1798.6 1085.2 1802.4 1086.3 1810.5 1088.3 1819.4 1089.9 1829.1 1091.2 1840 1092.1 " stroke="#ed1c24"/>
</g>
<rect x="1361.5" y="943.3" width="478.2" height="325.9" fill="none" stroke="#000" stroke-width="2"/>
<path d="M1361.5 1269.2v6M1440.5 1269.2v6M1520.5 1269.2v6M1600.5 1269.2v6M1680.5 1269.2v6M1760.5 1269.2v6M1839.7 1269.2v6M1400.5 1269.2v3.5M1480.5 1269.2v3.5M1560.5 1269.2v3.5M1640.5 1269.2v3.5M1720.5 1269.2v3.5M1800.5 1269.2v3.5M1361.5 1253h-6M1361.5 1204h-6M1361.5 1155.1h-6M1361.5 1106.2h-6M1361.5 1057.3h-6M1361.5 1008.4h-6M1361.5 959.5h-6M1361.5 1228.5h-3.5M1361.5 1179.6h-3.5M1361.5 1130.7h-3.5M1361.5 1081.8h-3.5M1361.5 1032.9h-3.5M1361.5 984h-3.5" stroke="#000" stroke-width="1.8" fill="none"/>
<g class="h" font-size="14.6" font-weight="bold" letter-spacing="-0.55">
<text transform="translate(1361.8 1291.6) scale(1.15 1)" text-anchor="middle">0</text>
<text transform="translate(1440.8 1291.6) scale(1.15 1)" text-anchor="middle">1</text>
<text transform="translate(1520.8 1291.6) scale(1.15 1)" text-anchor="middle">2</text>
<text transform="translate(1600.8 1291.6) scale(1.15 1)" text-anchor="middle">3</text>
<text transform="translate(1680.8 1291.6) scale(1.15 1)" text-anchor="middle">4</text>
<text transform="translate(1760.8 1291.6) scale(1.15 1)" text-anchor="middle">5</text>
<text transform="translate(1840 1291.6) scale(1.15 1)" text-anchor="middle">6</text>
<text transform="translate(1350.2 1257.8) scale(1.15 1)" text-anchor="end">0</text>
<text transform="translate(1350.2 1208.9) scale(1.15 1)" text-anchor="end">150</text>
<text transform="translate(1350.2 1160) scale(1.15 1)" text-anchor="end">300</text>
<text transform="translate(1350.2 1111) scale(1.15 1)" text-anchor="end">450</text>
<text transform="translate(1350.2 1062.1) scale(1.15 1)" text-anchor="end">600</text>
<text transform="translate(1350.2 1013.2) scale(1.15 1)" text-anchor="end">750</text>
<text transform="translate(1350.2 964.3) scale(1.15 1)" text-anchor="end">900</text>
</g>
<g class="g" stroke-dasharray="5.00 5.92"><line x1="272.8" y1="1372" x2="272.8" y2="1693.5"/><line x1="320.8" y1="1372" x2="320.8" y2="1693.5"/><line x1="368.8" y1="1372" x2="368.8" y2="1693.5"/><line x1="416.8" y1="1372" x2="416.8" y2="1693.5"/><line x1="464.9" y1="1372" x2="464.9" y2="1693.5"/><line x1="512.9" y1="1372" x2="512.9" y2="1693.5"/><line x1="560.9" y1="1372" x2="560.9" y2="1693.5"/><line x1="608.9" y1="1372" x2="608.9" y2="1693.5"/><line x1="656.9" y1="1372" x2="656.9" y2="1693.5"/><line x1="224.8" y1="1652.6" x2="704.9" y2="1652.6"/><line x1="224.8" y1="1611.7" x2="704.9" y2="1611.7"/><line x1="224.8" y1="1570.7" x2="704.9" y2="1570.7"/><line x1="224.8" y1="1529.8" x2="704.9" y2="1529.8"/><line x1="224.8" y1="1488.9" x2="704.9" y2="1488.9"/><line x1="224.8" y1="1447.9" x2="704.9" y2="1447.9"/><line x1="224.8" y1="1407" x2="704.9" y2="1407"/></g>
<g clip-path="url(#c10)" fill="none" stroke-width="2.8" stroke-linejoin="round" stroke-linecap="butt">
<path d="M225.1 1529.3 226.6 1534.2 231.9 1544.7 287.2 1657.9 L287.8 1401.2 405.7 1657.9 L406.3 1401.9 516.4 1657.9 L517.3 1401.9 627.4 1657.9 L628 1401.9 705.1 1571.3 " stroke="#000000"/>
<path d="M225.1 1529.3 226.6 1534.2 231.9 1544.7 287.2 1657.9 L287.8 1401.2 405.7 1657.9 L406.3 1401.9 516.4 1657.9 L517.3 1401.9 627.4 1657.9 L628 1401.9 705.1 1571.3 " stroke="#3953a4"/>
<path d="M225.1 1520.9 226.6 1533.3 231.9 1544.1 287.2 1657.9 L287.8 1401.2 402.9 1657.9 L403.5 1401.9 512.4 1657.9 L513.3 1401.9 626.5 1657.9 L627.1 1401.9 705.1 1570.4 " stroke="#ed1c24"/>
</g>
<rect x="224.8" y="1366.1" width="480.1" height="327.4" fill="none" stroke="#000" stroke-width="2"/>
<path d="M224.8 1693.5v6M272.8 1693.5v6M320.8 1693.5v6M368.8 1693.5v6M416.8 1693.5v6M464.9 1693.5v6M512.9 1693.5v6M560.9 1693.5v6M608.9 1693.5v6M656.9 1693.5v6M704.9 1693.5v6M248.8 1693.5v3.5M296.8 1693.5v3.5M344.8 1693.5v3.5M392.8 1693.5v3.5M440.8 1693.5v3.5M488.9 1693.5v3.5M536.9 1693.5v3.5M584.9 1693.5v3.5M632.9 1693.5v3.5M680.9 1693.5v3.5M224.8 1693.5h-6M224.8 1652.6h-6M224.8 1611.7h-6M224.8 1570.7h-6M224.8 1529.8h-6M224.8 1488.9h-6M224.8 1447.9h-6M224.8 1407h-6M224.8 1366.1h-6M224.8 1673h-3.5M224.8 1632.1h-3.5M224.8 1591.2h-3.5M224.8 1550.3h-3.5M224.8 1509.3h-3.5M224.8 1468.4h-3.5M224.8 1427.5h-3.5M224.8 1386.6h-3.5" stroke="#000" stroke-width="1.8" fill="none"/>
<g class="h" font-size="13.5" font-weight="bold" letter-spacing="-0.55">
<text transform="translate(225.1 1715.5) scale(1.15 1)" text-anchor="middle">0</text>
<text transform="translate(273.1 1715.5) scale(1.15 1)" text-anchor="middle">2</text>
<text transform="translate(321.1 1715.5) scale(1.15 1)" text-anchor="middle">4</text>
<text transform="translate(369.1 1715.5) scale(1.15 1)" text-anchor="middle">6</text>
<text transform="translate(417.1 1715.5) scale(1.15 1)" text-anchor="middle">8</text>
<text transform="translate(465.2 1715.5) scale(1.15 1)" text-anchor="middle">10</text>
<text transform="translate(513.2 1715.5) scale(1.15 1)" text-anchor="middle">12</text>
<text transform="translate(561.2 1715.5) scale(1.15 1)" text-anchor="middle">14</text>
<text transform="translate(609.2 1715.5) scale(1.15 1)" text-anchor="middle">16</text>
<text transform="translate(657.2 1715.5) scale(1.15 1)" text-anchor="middle">18</text>
<text transform="translate(705.2 1715.5) scale(1.15 1)" text-anchor="middle">20</text>
<text transform="translate(213.5 1698) scale(1.15 1)" text-anchor="end">-4</text>
<text transform="translate(213.5 1657) scale(1.15 1)" text-anchor="end">-3</text>
<text transform="translate(213.5 1616.1) scale(1.15 1)" text-anchor="end">-2</text>
<text transform="translate(213.5 1575.2) scale(1.15 1)" text-anchor="end">-1</text>
<text transform="translate(213.5 1534.3) scale(1.15 1)" text-anchor="end">0</text>
<text transform="translate(213.5 1493.3) scale(1.15 1)" text-anchor="end">1</text>
<text transform="translate(213.5 1452.4) scale(1.15 1)" text-anchor="end">2</text>
<text transform="translate(213.5 1411.5) scale(1.15 1)" text-anchor="end">3</text>
<text transform="translate(213.5 1370.6) scale(1.15 1)" text-anchor="end">4</text>
</g>
<g class="g" stroke-dasharray="5.00 5.92"><line x1="835" y1="1372" x2="835" y2="1693.5"/><line x1="883" y1="1372" x2="883" y2="1693.5"/><line x1="931" y1="1372" x2="931" y2="1693.5"/><line x1="979" y1="1372" x2="979" y2="1693.5"/><line x1="1027" y1="1372" x2="1027" y2="1693.5"/><line x1="1075" y1="1372" x2="1075" y2="1693.5"/><line x1="1123" y1="1372" x2="1123" y2="1693.5"/><line x1="1171" y1="1372" x2="1171" y2="1693.5"/><line x1="1219" y1="1372" x2="1219" y2="1693.5"/><line x1="787" y1="1652.6" x2="1267" y2="1652.6"/><line x1="787" y1="1611.7" x2="1267" y2="1611.7"/><line x1="787" y1="1570.7" x2="1267" y2="1570.7"/><line x1="787" y1="1529.8" x2="1267" y2="1529.8"/><line x1="787" y1="1488.9" x2="1267" y2="1488.9"/><line x1="787" y1="1447.9" x2="1267" y2="1447.9"/><line x1="787" y1="1407" x2="1267" y2="1407"/></g>
<g clip-path="url(#c11)" fill="none" stroke-width="2.8" stroke-linejoin="round" stroke-linecap="butt">
<path d="M787.5 1529.3 789.5 1534.6 792 1540.4 801.4 1560.1 805.3 1569 809.2 1578.9 811 1584 812.5 1588.8 813.9 1593.6 815.2 1598.8 817.7 1609.9 819.6 1620.5 823.7 1644.9 825.9 1656.1 L826.8 1401.9 828 1413.8 829.5 1425.4 831.4 1436.7 833.6 1447.1 836.2 1457.5 839.2 1467.4 842.5 1477.2 846.5 1487 849.7 1494.4 853.3 1502.2 857.3 1510.3 861.9 1519.2 870.5 1535.1 898.8 1586.3 906.5 1600.7 913.3 1613.7 919.3 1625.6 924.9 1637 930 1647.9 934.7 1658.6 L935.7 1401.9 945.8 1421.5 955.1 1440.3 964 1459 972.5 1477.9 978.8 1492.3 985.9 1508.8 1014.1 1576.3 1027.1 1607.1 1038.7 1634.1 1049.5 1658.6 L1050.4 1401.9 1164.5 1658.6 L1165.2 1401.9 1267.2 1623 " stroke="#000000"/>
<path d="M787.5 1529.3 789.5 1534.6 792 1540.4 801.4 1560.1 805.3 1569 809.2 1578.9 811 1584 812.5 1588.8 813.9 1593.6 815.2 1598.8 817.7 1609.9 819.6 1620.5 823.7 1644.9 825.9 1656.1 L826.8 1401.9 828.1 1414.8 829.8 1426.7 831.8 1438.3 834.2 1449.4 837 1460.1 840.1 1470.3 843.7 1480.3 848 1490.8 852 1499.6 856.5 1508.9 861.7 1519 867.7 1530.2 875.7 1544.6 884.9 1560.8 914.6 1612.3 922.8 1627.2 927.2 1635.5 931.1 1643.6 934.7 1651.2 937.8 1658.6 L939.1 1401.8 944.4 1410.4 949.5 1419.7 954.6 1429.8 959.8 1441.4 963.4 1450 967.5 1460.2 994.8 1529.8 1008.2 1562.6 1017.8 1585.7 1027.9 1609.3 1038.4 1633.5 1049.5 1658.6 L1050.4 1401.9 1164.5 1658.6 L1165.2 1401.9 1267.2 1623 " stroke="#3953a4"/>
<path d="M787.5 1520 787.5 1524.1 788 1528.1 788.9 1532.3 790.3 1536.7 791.6 1540.1 793.2 1543.8 801.1 1559.7 805.6 1569.9 807.8 1575.5 809.8 1580.8 811.5 1586.2 813.1 1591.6 815.7 1601.7 818 1612.9 819.7 1622.1 823.4 1644.9 825.3 1655.5 L826.2 1401.9 827.6 1415.4 829.4 1428 831.5 1439.9 833.9 1451 836.7 1461.7 840 1472.2 843.7 1482.2 848.1 1492.6 851.6 1500.2 855.6 1508.2 859.9 1516.5 864.8 1525.6 872.1 1538.4 881.2 1554 912.4 1606.5 921.5 1622.1 926.8 1631.7 931.7 1640.8 936 1649.5 940 1657.9 L940.9 1401.8 945.4 1408.9 949.7 1416.4 953.8 1424.8 958 1434.2 963.5 1447.8 974.8 1478.2 983.4 1500.6 992 1522.4 1001.2 1545.3 1012.1 1571.8 1023.7 1599.2 1036.1 1628 1049.5 1658.6 L1050.1 1401.9 1164.2 1658.6 L1164.8 1401.9 1267.2 1622.1 " stroke="#ed1c24"/>
</g>
<rect x="787" y="1366.1" width="480" height="327.4" fill="none" stroke="#000" stroke-width="2"/>
<path d="M787 1693.5v6M835 1693.5v6M883 1693.5v6M931 1693.5v6M979 1693.5v6M1027 1693.5v6M1075 1693.5v6M1123 1693.5v6M1171 1693.5v6M1219 1693.5v6M1267 1693.5v6M811 1693.5v3.5M859 1693.5v3.5M907 1693.5v3.5M955 1693.5v3.5M1003 1693.5v3.5M1051 1693.5v3.5M1099 1693.5v3.5M1147 1693.5v3.5M1195 1693.5v3.5M1243 1693.5v3.5M787 1693.5h-6M787 1652.6h-6M787 1611.7h-6M787 1570.7h-6M787 1529.8h-6M787 1488.9h-6M787 1447.9h-6M787 1407h-6M787 1366.1h-6M787 1673h-3.5M787 1632.1h-3.5M787 1591.2h-3.5M787 1550.3h-3.5M787 1509.3h-3.5M787 1468.4h-3.5M787 1427.5h-3.5M787 1386.6h-3.5" stroke="#000" stroke-width="1.8" fill="none"/>
<g class="h" font-size="13.5" font-weight="bold" letter-spacing="-0.55">
<text transform="translate(787.3 1715.5) scale(1.15 1)" text-anchor="middle">0</text>
<text transform="translate(835.3 1715.5) scale(1.15 1)" text-anchor="middle">2</text>
<text transform="translate(883.3 1715.5) scale(1.15 1)" text-anchor="middle">4</text>
<text transform="translate(931.3 1715.5) scale(1.15 1)" text-anchor="middle">6</text>
<text transform="translate(979.3 1715.5) scale(1.15 1)" text-anchor="middle">8</text>
<text transform="translate(1027.3 1715.5) scale(1.15 1)" text-anchor="middle">10</text>
<text transform="translate(1075.3 1715.5) scale(1.15 1)" text-anchor="middle">12</text>
<text transform="translate(1123.3 1715.5) scale(1.15 1)" text-anchor="middle">14</text>
<text transform="translate(1171.3 1715.5) scale(1.15 1)" text-anchor="middle">16</text>
<text transform="translate(1219.3 1715.5) scale(1.15 1)" text-anchor="middle">18</text>
<text transform="translate(1267.3 1715.5) scale(1.15 1)" text-anchor="middle">20</text>
<text transform="translate(775.7 1698) scale(1.15 1)" text-anchor="end">-4</text>
<text transform="translate(775.7 1657) scale(1.15 1)" text-anchor="end">-3</text>
<text transform="translate(775.7 1616.1) scale(1.15 1)" text-anchor="end">-2</text>
<text transform="translate(775.7 1575.2) scale(1.15 1)" text-anchor="end">-1</text>
<text transform="translate(775.7 1534.3) scale(1.15 1)" text-anchor="end">0</text>
<text transform="translate(775.7 1493.3) scale(1.15 1)" text-anchor="end">1</text>
<text transform="translate(775.7 1452.4) scale(1.15 1)" text-anchor="end">2</text>
<text transform="translate(775.7 1411.5) scale(1.15 1)" text-anchor="end">3</text>
<text transform="translate(775.7 1370.6) scale(1.15 1)" text-anchor="end">4</text>
</g>
<g class="g" stroke-dasharray="5.00 5.92"><line x1="1429.2" y1="1372" x2="1429.2" y2="1693.5"/><line x1="1509.6" y1="1372" x2="1509.6" y2="1693.5"/><line x1="1590" y1="1372" x2="1590" y2="1693.5"/><line x1="1670.3" y1="1372" x2="1670.3" y2="1693.5"/><line x1="1750.7" y1="1372" x2="1750.7" y2="1693.5"/><line x1="1348.9" y1="1652.6" x2="1831" y2="1652.6"/><line x1="1348.9" y1="1611.7" x2="1831" y2="1611.7"/><line x1="1348.9" y1="1570.7" x2="1831" y2="1570.7"/><line x1="1348.9" y1="1529.8" x2="1831" y2="1529.8"/><line x1="1348.9" y1="1488.9" x2="1831" y2="1488.9"/><line x1="1348.9" y1="1447.9" x2="1831" y2="1447.9"/><line x1="1348.9" y1="1407" x2="1831" y2="1407"/></g>
<g clip-path="url(#c12)" fill="none" stroke-width="2.8" stroke-linejoin="round" stroke-linecap="butt">
<path d="M1349.8 1530.2 1359.4 1538.2 1361.8 1540.5 1363.9 1543.1 1365.8 1545.8 1367.2 1548.8 1368.5 1552.2 1369.7 1556.3 1370.6 1560.6 1371.4 1565.2 1372.1 1570.2 1372.8 1575.9 1376.2 1617.5 1377.4 1635.9 1378 1642.6 1378.6 1646.9 1379.3 1650.8 1380 1654.4 1381 1657.9 L1381.6 1401.9 1384.4 1405.3 1387.5 1408.3 1391.1 1411.2 1395 1413.6 1399.7 1416.1 1405.2 1418.5 1412.2 1421.1 1419 1423.2 1423.9 1424.5 1428.4 1425.4 1432.7 1426.1 1437 1426.5 1440.6 1426.7 1444.8 1426.8 1458.5 1426.4 1463.9 1426.4 1469.1 1426.6 1473.5 1427 1477.8 1427.8 1481.9 1429 1485.5 1430.5 1487.1 1431.5 1488.7 1432.6 1490.2 1433.8 1491.6 1435.2 1492.9 1436.7 1494.1 1438.3 1496.5 1442.1 1498.6 1446.5 1500.2 1450.6 1501.6 1455.1 1509 1482.3 1511.9 1492.3 1513.6 1497.4 1515.4 1501.7 1517.3 1505.2 1519.7 1508.5 1522.2 1511.2 1524.5 1513.2 1526.7 1514.6 1529.3 1515.9 1532.1 1517 1537.6 1518.5 1551 1521.4 1557.8 1523 1564.6 1524.8 1571.7 1526.8 1579.9 1529.5 1588.1 1532.4 1596.2 1535.5 1604.5 1539 1612.4 1542.6 1620.2 1546.4 1627.9 1550.4 1635.5 1554.6 1643 1559 1650.6 1563.8 1658.1 1568.7 1665.5 1573.9 1673.8 1580 1685.6 1588.8 1691.2 1593.1 1695.1 1596.3 1698.9 1599.6 1702.2 1602.8 1705.1 1606 1707.6 1609.1 1710 1612.7 1712.2 1616.4 1714.4 1620.6 1716.5 1625.2 1718.1 1629.3 1719.5 1633.4 1725.1 1650.8 1726.7 1655.2 1728.3 1658.9 L1729.2 1401.2 1730.3 1403.3 1731 1404.1 1731.9 1405.1 1732.7 1405.7 1733.8 1406.3 1735.8 1407.1 1737.7 1407.4 1740 1407.5 1751.2 1406.6 1753.8 1406.6 1756.1 1406.7 1759.1 1407.3 1761.9 1408.1 1765.1 1409.3 1768.8 1411 1774.8 1414.3 1781.4 1418.2 1789.6 1423.3 1797.7 1428.7 1805.7 1434.2 1813.9 1440 1822.2 1446.2 1831 1452.9 " stroke="#000000"/>
<path d="M1349.8 1530.2 1359.4 1538.2 1361.8 1540.5 1363.9 1543.1 1365.8 1545.8 1367.2 1548.8 1368.5 1552.2 1369.7 1556.3 1370.6 1560.6 1371.4 1565.2 1372.1 1570.2 1372.8 1575.9 1376.2 1617.5 1377.4 1635.9 1378 1642.6 1378.6 1646.9 1379.3 1650.8 1380 1654.4 1381 1657.9 L1381.6 1401.9 1383.3 1404.8 1385.3 1407.5 1387.7 1410.2 1390.4 1412.7 1393.5 1415.2 1396.8 1417.4 1400.8 1419.9 1405.5 1422.6 1412 1426 1417.9 1429 1423.7 1431.6 1429.2 1433.9 1433.8 1435.7 1438.6 1437.3 1453.6 1442.2 1456.5 1442.9 1458.1 1443.1 1459.4 1443 1461.1 1442.8 1462.8 1442.4 1464.4 1441.7 1466.2 1440.8 1467.6 1439.9 1469.1 1438.6 1471.1 1436.5 1472.9 1434.1 1474.8 1430.9 1477.7 1425 1478.7 1423.2 1480.1 1421.3 1481.7 1419.7 1482.8 1419 1483.7 1418.7 1484.6 1418.5 1485.5 1418.4 1486.4 1418.5 1487.7 1418.8 1488.5 1419.1 1489.7 1419.7 1490.7 1420.5 1491.8 1421.8 1492.7 1423.2 1493.6 1425 1499.3 1440.5 1503.9 1455.1 1505.5 1458.9 1507.3 1462.5 1509 1465.3 1510.9 1468.1 1513.3 1471.4 1515.8 1474.5 1518.4 1477.5 1521.4 1480.7 1527.6 1486.7 1532.3 1490.8 1537.8 1495.3 1543.9 1499.9 1550.9 1505 1564.9 1514.8 1576.2 1522.5 1586.5 1529.3 1595.8 1535.2 1603.8 1539.9 1611.6 1544.4 1636.2 1557.4 1651.3 1565.7 1656.7 1568.4 1668.9 1573.8 1676.1 1577.4 1679.9 1579.5 1683.6 1581.8 1687.2 1584.2 1690.4 1586.6 1694.8 1590.2 1698.9 1594 1703.1 1598.3 1707.4 1603.1 1710.8 1607.2 1714.5 1612 1727.1 1629.1 1732.2 1635.7 1736.9 1641.4 1750.9 1657.9 L1751.8 1401.9 1803.7 1439.3 1818.3 1450.2 1831 1460 " stroke="#3953a4"/>
<path d="M1349.8 1522.5 1350.5 1522.6 1351.4 1523.1 1352.3 1523.8 1353 1524.6 1354 1526.2 1356.5 1531 1357.9 1533.3 1363.6 1541.6 1365.1 1543.9 1366.3 1546.2 1367.5 1549 1368.5 1552.2 1369.6 1556.4 1370.5 1560.7 1371.2 1565 1371.8 1569.9 1372.4 1575.3 1375.6 1612.9 1377.1 1634.9 1377.7 1641.9 1378.3 1646.6 1378.9 1650.5 1379.8 1654.4 1380.7 1657.9 L1381.3 1401.9 1383.1 1404.7 1385.3 1407.6 1387.8 1410.3 1390.7 1413 1393.9 1415.4 1397.5 1417.9 1401.8 1420.5 1407.1 1423.5 1413.3 1426.7 1419.3 1429.7 1425 1432.2 1430.6 1434.5 1436.2 1436.6 1442.6 1438.6 1452.3 1441.5 1455.5 1442.2 1457.2 1442.3 1458.8 1442.3 1460.5 1442 1462.1 1441.6 1463.7 1440.9 1465.5 1439.9 1467.2 1438.8 1468.7 1437.5 1470.7 1435.4 1472.6 1432.8 1474.6 1429.3 1477.6 1423.3 1478.8 1421.1 1480.1 1419.2 1481.7 1417.7 1482.7 1417.1 1483.6 1416.7 1485.3 1416.4 1486.3 1416.4 1487.2 1416.6 1488 1417 1489.1 1417.6 1490.1 1418.4 1491.1 1419.7 1492 1421.2 1492.8 1423.1 1497.7 1437.2 1501.7 1449.8 1503.1 1454 1505 1459 1507.2 1463.5 1508.8 1466.4 1510.6 1469.3 1512.5 1472 1514.5 1474.7 1516.6 1477.2 1519.1 1479.9 1521.9 1482.8 1524.8 1485.6 1529.6 1489.8 1535.5 1494.7 1542.3 1500.1 1549 1505.1 1555.2 1509.6 1561.8 1514.1 1568.8 1518.7 1576.1 1523.3 1590.2 1531.7 1606.5 1540.9 1623.5 1550.1 1660.5 1569.8 1672.9 1576.6 1677.3 1579.1 1681.3 1581.6 1684.8 1584 1688.1 1586.3 1691.6 1589.2 1694.8 1592.2 1698 1595.5 1701.5 1599.6 1704.2 1603 1707.2 1607.1 1717.1 1621.4 1721.2 1627.1 1725.2 1632.4 1729.2 1637.3 1732.8 1641.2 1737 1645.5 1750.9 1658.6 L1751.5 1401.9 1769.2 1413.3 1788 1426.1 1808 1440.2 1831 1456.9 " stroke="#ed1c24"/>
</g>
<rect x="1348.9" y="1366.1" width="482.1" height="327.4" fill="none" stroke="#000" stroke-width="2"/>
<path d="M1348.9 1693.5v6M1429.2 1693.5v6M1509.6 1693.5v6M1590 1693.5v6M1670.3 1693.5v6M1750.7 1693.5v6M1831 1693.5v6M1389.1 1693.5v3.5M1469.4 1693.5v3.5M1549.8 1693.5v3.5M1630.1 1693.5v3.5M1710.5 1693.5v3.5M1790.8 1693.5v3.5M1348.9 1693.5h-6M1348.9 1652.6h-6M1348.9 1611.7h-6M1348.9 1570.7h-6M1348.9 1529.8h-6M1348.9 1488.9h-6M1348.9 1447.9h-6M1348.9 1407h-6M1348.9 1366.1h-6M1348.9 1673h-3.5M1348.9 1632.1h-3.5M1348.9 1591.2h-3.5M1348.9 1550.3h-3.5M1348.9 1509.3h-3.5M1348.9 1468.4h-3.5M1348.9 1427.5h-3.5M1348.9 1386.6h-3.5" stroke="#000" stroke-width="1.8" fill="none"/>
<g class="h" font-size="13.5" font-weight="bold" letter-spacing="-0.55">
<text transform="translate(1349.2 1715.5) scale(1.15 1)" text-anchor="middle">0</text>
<text transform="translate(1429.5 1715.5) scale(1.15 1)" text-anchor="middle">1</text>
<text transform="translate(1509.9 1715.5) scale(1.15 1)" text-anchor="middle">2</text>
<text transform="translate(1590.2 1715.5) scale(1.15 1)" text-anchor="middle">3</text>
<text transform="translate(1670.6 1715.5) scale(1.15 1)" text-anchor="middle">4</text>
<text transform="translate(1751 1715.5) scale(1.15 1)" text-anchor="middle">5</text>
<text transform="translate(1831.3 1715.5) scale(1.15 1)" text-anchor="middle">6</text>
<text transform="translate(1337.6 1698) scale(1.15 1)" text-anchor="end">-4</text>
<text transform="translate(1337.6 1657) scale(1.15 1)" text-anchor="end">-3</text>
<text transform="translate(1337.6 1616.1) scale(1.15 1)" text-anchor="end">-2</text>
<text transform="translate(1337.6 1575.2) scale(1.15 1)" text-anchor="end">-1</text>
<text transform="translate(1337.6 1534.3) scale(1.15 1)" text-anchor="end">0</text>
<text transform="translate(1337.6 1493.3) scale(1.15 1)" text-anchor="end">1</text>
<text transform="translate(1337.6 1452.4) scale(1.15 1)" text-anchor="end">2</text>
<text transform="translate(1337.6 1411.5) scale(1.15 1)" text-anchor="end">3</text>
<text transform="translate(1337.6 1370.6) scale(1.15 1)" text-anchor="end">4</text>
</g>
</svg>
</body></html>
